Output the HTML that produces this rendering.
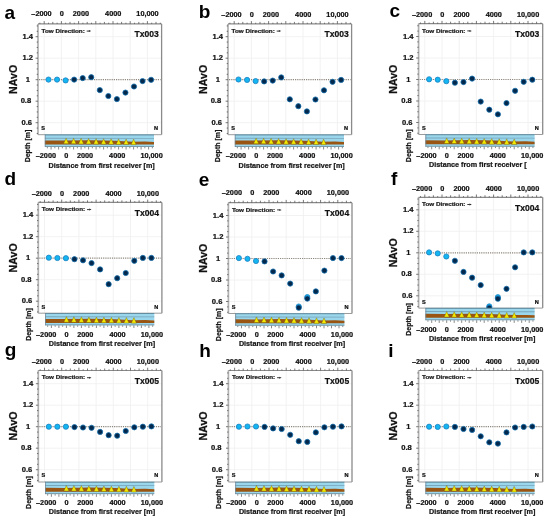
<!DOCTYPE html>
<html><head><meta charset="utf-8">
<style>
html,body{margin:0;padding:0;background:#fff;width:550px;height:521px;overflow:hidden}
svg{display:block;filter:blur(0.3px)}
text{font-family:"Liberation Sans", sans-serif;fill:#111;stroke:#111;stroke-width:0.24px}
.let{font-size:19px;font-weight:bold;fill:#000;stroke:none}
.ax{font-size:7.3px;font-weight:bold;fill:#111}
.yl{font-size:7.6px;font-weight:bold;fill:#111}
.nav{font-size:10.6px;font-weight:bold;fill:#111;stroke-width:0.25px}
.tow{font-size:5.5px;font-weight:bold;fill:#222;stroke:#222}
.tx{font-size:8.6px;font-weight:bold;fill:#111;stroke-width:0.2px}
.sn{font-size:5.6px;font-weight:bold;fill:#111}
.xt{font-size:7.2px;font-weight:bold;fill:#1a1a1a}
.dep{font-size:7.0px;font-weight:bold;fill:#1a1a1a}
.grid{stroke:#efefef;stroke-width:0.8}
.dot{stroke:#8d867c;stroke-width:1.2;stroke-dasharray:1.2 1.0}
.bl{stroke:#b0b0b0;stroke-width:1.7}
.br{stroke:#8a8a8a;stroke-width:1.3}
.bt{stroke:#8a8a8a;stroke-width:1.2}
.bb{stroke:#9c9c9c;stroke-width:1.0}
.tk{stroke:#555;stroke-width:0.8}
.tk2{stroke:#555;stroke-width:0.7}
.pl{fill:#14b6f2;stroke:#1f80c0;stroke-width:0.8}
.pd{fill:#03284c;stroke:#1470ae;stroke-width:0.8}
.tri{fill:#f4e800;stroke:#5a5010;stroke-width:0.35}
</style></head><body>
<svg width="550" height="521" viewBox="0 0 550 521">
<text x="4.5" y="19.3" class="let">a</text>
<line x1="44.2" y1="23.9" x2="44.2" y2="134.7" class="grid"/>
<line x1="61.4" y1="23.9" x2="61.4" y2="134.7" class="grid"/>
<line x1="78.6" y1="23.9" x2="78.6" y2="134.7" class="grid"/>
<line x1="95.8" y1="23.9" x2="95.8" y2="134.7" class="grid"/>
<line x1="113" y1="23.9" x2="113" y2="134.7" class="grid"/>
<line x1="130.2" y1="23.9" x2="130.2" y2="134.7" class="grid"/>
<line x1="147.4" y1="23.9" x2="147.4" y2="134.7" class="grid"/>
<line x1="38" y1="36.7" x2="161.6" y2="36.7" class="grid"/>
<line x1="38" y1="58.2" x2="161.6" y2="58.2" class="grid"/>
<line x1="38" y1="101.2" x2="161.6" y2="101.2" class="grid"/>
<line x1="38" y1="122.7" x2="161.6" y2="122.7" class="grid"/>
<line x1="39" y1="79.7" x2="160.6" y2="79.7" class="dot"/>
<line x1="38" y1="23.9" x2="38" y2="134.7" class="bl"/>
<line x1="161.6" y1="23.9" x2="161.6" y2="134.7" class="br"/>
<line x1="38" y1="23.9" x2="161.6" y2="23.9" class="bt"/>
<line x1="38" y1="134.7" x2="161.6" y2="134.7" class="bb"/>
<line x1="39.9" y1="22.7" x2="39.9" y2="23.9" class="tk"/>
<line x1="44.2" y1="21.1" x2="44.2" y2="23.9" class="tk"/>
<line x1="48.5" y1="22.7" x2="48.5" y2="23.9" class="tk"/>
<line x1="52.8" y1="21.9" x2="52.8" y2="23.9" class="tk"/>
<line x1="57.1" y1="22.7" x2="57.1" y2="23.9" class="tk"/>
<line x1="61.4" y1="21.1" x2="61.4" y2="23.9" class="tk"/>
<line x1="65.7" y1="22.7" x2="65.7" y2="23.9" class="tk"/>
<line x1="70" y1="21.9" x2="70" y2="23.9" class="tk"/>
<line x1="74.3" y1="22.7" x2="74.3" y2="23.9" class="tk"/>
<line x1="78.6" y1="21.1" x2="78.6" y2="23.9" class="tk"/>
<line x1="82.9" y1="22.7" x2="82.9" y2="23.9" class="tk"/>
<line x1="87.2" y1="21.9" x2="87.2" y2="23.9" class="tk"/>
<line x1="91.5" y1="22.7" x2="91.5" y2="23.9" class="tk"/>
<line x1="95.8" y1="21.1" x2="95.8" y2="23.9" class="tk"/>
<line x1="100.1" y1="22.7" x2="100.1" y2="23.9" class="tk"/>
<line x1="104.4" y1="21.9" x2="104.4" y2="23.9" class="tk"/>
<line x1="108.7" y1="22.7" x2="108.7" y2="23.9" class="tk"/>
<line x1="113" y1="21.1" x2="113" y2="23.9" class="tk"/>
<line x1="117.3" y1="22.7" x2="117.3" y2="23.9" class="tk"/>
<line x1="121.6" y1="21.9" x2="121.6" y2="23.9" class="tk"/>
<line x1="125.9" y1="22.7" x2="125.9" y2="23.9" class="tk"/>
<line x1="130.2" y1="21.1" x2="130.2" y2="23.9" class="tk"/>
<line x1="134.5" y1="22.7" x2="134.5" y2="23.9" class="tk"/>
<line x1="138.8" y1="21.9" x2="138.8" y2="23.9" class="tk"/>
<line x1="143.1" y1="22.7" x2="143.1" y2="23.9" class="tk"/>
<line x1="147.4" y1="21.1" x2="147.4" y2="23.9" class="tk"/>
<line x1="151.7" y1="22.7" x2="151.7" y2="23.9" class="tk"/>
<line x1="156" y1="21.9" x2="156" y2="23.9" class="tk"/>
<line x1="160.3" y1="22.7" x2="160.3" y2="23.9" class="tk"/>
<line x1="36.7" y1="25.95" x2="38" y2="25.95" class="tk"/>
<line x1="36.7" y1="31.32" x2="38" y2="31.32" class="tk"/>
<line x1="35.6" y1="36.7" x2="38" y2="36.7" class="tk"/>
<line x1="36.7" y1="42.07" x2="38" y2="42.07" class="tk"/>
<line x1="36.7" y1="47.45" x2="38" y2="47.45" class="tk"/>
<line x1="36.7" y1="52.82" x2="38" y2="52.82" class="tk"/>
<line x1="35.6" y1="58.2" x2="38" y2="58.2" class="tk"/>
<line x1="36.7" y1="63.58" x2="38" y2="63.58" class="tk"/>
<line x1="36.7" y1="68.95" x2="38" y2="68.95" class="tk"/>
<line x1="36.7" y1="74.32" x2="38" y2="74.32" class="tk"/>
<line x1="35.6" y1="79.7" x2="38" y2="79.7" class="tk"/>
<line x1="36.7" y1="85.07" x2="38" y2="85.07" class="tk"/>
<line x1="36.7" y1="90.45" x2="38" y2="90.45" class="tk"/>
<line x1="36.7" y1="95.82" x2="38" y2="95.82" class="tk"/>
<line x1="35.6" y1="101.2" x2="38" y2="101.2" class="tk"/>
<line x1="36.7" y1="106.57" x2="38" y2="106.57" class="tk"/>
<line x1="36.7" y1="111.95" x2="38" y2="111.95" class="tk"/>
<line x1="36.7" y1="117.32" x2="38" y2="117.32" class="tk"/>
<line x1="35.6" y1="122.7" x2="38" y2="122.7" class="tk"/>
<line x1="36.7" y1="128.07" x2="38" y2="128.07" class="tk"/>
<line x1="36.7" y1="133.45" x2="38" y2="133.45" class="tk"/>
<text x="41.5" y="15.5" class="ax" text-anchor="middle">–2000</text>
<text x="61.8" y="15.5" class="ax" text-anchor="middle">0</text>
<text x="80.9" y="15.5" class="ax" text-anchor="middle">2000</text>
<text x="113.2" y="15.5" class="ax" text-anchor="middle">4000</text>
<text x="147.5" y="15.5" class="ax" text-anchor="middle">10,000</text>
<text x="33" y="38.8" class="yl" text-anchor="end">1.4</text>
<text x="33" y="60.3" class="yl" text-anchor="end">1.2</text>
<text x="29.9" y="81.8" class="yl" text-anchor="end">1</text>
<text x="31.2" y="103.3" class="yl" text-anchor="end">0.8</text>
<text x="32" y="124.8" class="yl" text-anchor="end">0.6</text>
<text transform="translate(16.8,79.4) rotate(-90)" class="nav" text-anchor="middle">NAvO</text>
<text x="41.5" y="32.7" class="tow" textLength="43.3" lengthAdjust="spacingAndGlyphs">Tow Direction:</text>
<path d="M86.7,31.1 h2.6" stroke="#222" stroke-width="0.9"/>
<path d="M88.9,30.1 l2.3,1.0 l-2.3,1.0 z" fill="#222"/>
<text x="158.8" y="37.1" class="tx" text-anchor="end">Tx003</text>
<text x="41.3" y="130.3" class="sn">S</text>
<text x="158.1" y="130.1" class="sn" text-anchor="end">N</text>
<circle cx="48.5" cy="79.6" r="2.6" class="pl"/>
<circle cx="57.05" cy="79.6" r="2.6" class="pl"/>
<circle cx="65.6" cy="80.4" r="2.6" class="pl"/>
<circle cx="74.15" cy="79.6" r="2.6" class="pd"/>
<circle cx="82.7" cy="78.1" r="2.6" class="pd"/>
<circle cx="91.25" cy="77.2" r="2.6" class="pd"/>
<circle cx="99.8" cy="90.1" r="2.6" class="pd"/>
<circle cx="108.35" cy="96" r="2.6" class="pd"/>
<circle cx="116.9" cy="99.1" r="2.6" class="pd"/>
<circle cx="125.45" cy="92.6" r="2.6" class="pd"/>
<circle cx="134" cy="86.5" r="2.6" class="pd"/>
<circle cx="142.55" cy="81.1" r="2.6" class="pd"/>
<circle cx="151.1" cy="79.8" r="2.6" class="pd"/>
<rect x="44.9" y="134.5" width="109.1" height="12.3" fill="#9ad6ec"/>
<rect x="44.9" y="134.5" width="109.1" height="0.9" fill="#5f8598"/>
<path d="M44.9,137.7 L154,137.9 L154,138.8 L44.9,138.7 Z" fill="#78a6bb"/>
<path d="M44.9,140.4 L64.9,140.6 L89.9,140.3 L114.9,140.8 L132.9,141.7 L144.9,141.5 L154,141.9 L154,144.4 L44.9,144.4 Z" fill="#9a5512"/>
<rect x="44.9" y="146" width="109.1" height="0.8" fill="#6f8c9a"/>
<line x1="45.2" y1="134.5" x2="45.2" y2="146.8" stroke="#6a8090" stroke-width="0.7"/>
<path d="M66.1,138.1 L68.7,143.7 L63.5,143.7 Z" class="tri"/>
<path d="M73.6,138.21 L76.2,143.81 L71,143.81 Z" class="tri"/>
<path d="M81.1,138.32 L83.7,143.92 L78.5,143.92 Z" class="tri"/>
<path d="M88.6,138.43 L91.2,144.03 L86,144.03 Z" class="tri"/>
<path d="M96.1,138.54 L98.7,144.14 L93.5,144.14 Z" class="tri"/>
<path d="M103.6,138.66 L106.2,144.26 L101,144.26 Z" class="tri"/>
<path d="M111.1,138.77 L113.7,144.37 L108.5,144.37 Z" class="tri"/>
<path d="M118.6,138.88 L121.2,144.48 L116,144.48 Z" class="tri"/>
<path d="M126.1,138.99 L128.7,144.59 L123.5,144.59 Z" class="tri"/>
<path d="M133.6,139.1 L136.2,144.7 L131,144.7 Z" class="tri"/>
<line x1="47.35" y1="146.9" x2="47.35" y2="148.3" class="tk2"/>
<line x1="51.1" y1="146.9" x2="51.1" y2="149.5" class="tk2"/>
<line x1="54.85" y1="146.9" x2="54.85" y2="148.3" class="tk2"/>
<line x1="58.6" y1="146.9" x2="58.6" y2="149.5" class="tk2"/>
<line x1="62.35" y1="146.9" x2="62.35" y2="148.3" class="tk2"/>
<line x1="66.1" y1="146.9" x2="66.1" y2="149.5" class="tk2"/>
<line x1="69.85" y1="146.9" x2="69.85" y2="148.3" class="tk2"/>
<line x1="73.6" y1="146.9" x2="73.6" y2="149.5" class="tk2"/>
<line x1="77.35" y1="146.9" x2="77.35" y2="148.3" class="tk2"/>
<line x1="81.1" y1="146.9" x2="81.1" y2="149.5" class="tk2"/>
<line x1="84.85" y1="146.9" x2="84.85" y2="148.3" class="tk2"/>
<line x1="88.6" y1="146.9" x2="88.6" y2="149.5" class="tk2"/>
<line x1="92.35" y1="146.9" x2="92.35" y2="148.3" class="tk2"/>
<line x1="96.1" y1="146.9" x2="96.1" y2="149.5" class="tk2"/>
<line x1="99.85" y1="146.9" x2="99.85" y2="148.3" class="tk2"/>
<line x1="103.6" y1="146.9" x2="103.6" y2="149.5" class="tk2"/>
<line x1="107.35" y1="146.9" x2="107.35" y2="148.3" class="tk2"/>
<line x1="111.1" y1="146.9" x2="111.1" y2="149.5" class="tk2"/>
<line x1="114.85" y1="146.9" x2="114.85" y2="148.3" class="tk2"/>
<line x1="118.6" y1="146.9" x2="118.6" y2="149.5" class="tk2"/>
<line x1="122.35" y1="146.9" x2="122.35" y2="148.3" class="tk2"/>
<line x1="126.1" y1="146.9" x2="126.1" y2="149.5" class="tk2"/>
<line x1="129.85" y1="146.9" x2="129.85" y2="148.3" class="tk2"/>
<line x1="133.6" y1="146.9" x2="133.6" y2="149.5" class="tk2"/>
<line x1="137.35" y1="146.9" x2="137.35" y2="148.3" class="tk2"/>
<line x1="141.1" y1="146.9" x2="141.1" y2="149.5" class="tk2"/>
<line x1="144.85" y1="146.9" x2="144.85" y2="148.3" class="tk2"/>
<line x1="148.6" y1="146.9" x2="148.6" y2="149.5" class="tk2"/>
<line x1="152.35" y1="146.9" x2="152.35" y2="148.3" class="tk2"/>
<text x="45.9" y="158.3" class="ax" text-anchor="middle">–2000</text>
<text x="66.3" y="158.3" class="ax" text-anchor="middle">0</text>
<text x="85" y="158.3" class="ax" text-anchor="middle">2000</text>
<text x="117.2" y="158.3" class="ax" text-anchor="middle">4000</text>
<text x="151.6" y="158.3" class="ax" text-anchor="middle">10,000</text>
<text x="48.5" y="167.6" class="xt">Distance from first receiver [m]</text>
<text transform="translate(30.4,146) rotate(-90)" class="dep" text-anchor="middle">Depth [m]</text>
<text x="198.8" y="18.2" class="let">b</text>
<line x1="234.2" y1="23.9" x2="234.2" y2="134.7" class="grid"/>
<line x1="251.4" y1="23.9" x2="251.4" y2="134.7" class="grid"/>
<line x1="268.6" y1="23.9" x2="268.6" y2="134.7" class="grid"/>
<line x1="285.8" y1="23.9" x2="285.8" y2="134.7" class="grid"/>
<line x1="303" y1="23.9" x2="303" y2="134.7" class="grid"/>
<line x1="320.2" y1="23.9" x2="320.2" y2="134.7" class="grid"/>
<line x1="337.4" y1="23.9" x2="337.4" y2="134.7" class="grid"/>
<line x1="228" y1="36.7" x2="351.6" y2="36.7" class="grid"/>
<line x1="228" y1="58.2" x2="351.6" y2="58.2" class="grid"/>
<line x1="228" y1="101.2" x2="351.6" y2="101.2" class="grid"/>
<line x1="228" y1="122.7" x2="351.6" y2="122.7" class="grid"/>
<line x1="229" y1="79.7" x2="350.6" y2="79.7" class="dot"/>
<line x1="228" y1="23.9" x2="228" y2="134.7" class="bl"/>
<line x1="351.6" y1="23.9" x2="351.6" y2="134.7" class="br"/>
<line x1="228" y1="23.9" x2="351.6" y2="23.9" class="bt"/>
<line x1="228" y1="134.7" x2="351.6" y2="134.7" class="bb"/>
<line x1="229.9" y1="22.7" x2="229.9" y2="23.9" class="tk"/>
<line x1="234.2" y1="21.1" x2="234.2" y2="23.9" class="tk"/>
<line x1="238.5" y1="22.7" x2="238.5" y2="23.9" class="tk"/>
<line x1="242.8" y1="21.9" x2="242.8" y2="23.9" class="tk"/>
<line x1="247.1" y1="22.7" x2="247.1" y2="23.9" class="tk"/>
<line x1="251.4" y1="21.1" x2="251.4" y2="23.9" class="tk"/>
<line x1="255.7" y1="22.7" x2="255.7" y2="23.9" class="tk"/>
<line x1="260" y1="21.9" x2="260" y2="23.9" class="tk"/>
<line x1="264.3" y1="22.7" x2="264.3" y2="23.9" class="tk"/>
<line x1="268.6" y1="21.1" x2="268.6" y2="23.9" class="tk"/>
<line x1="272.9" y1="22.7" x2="272.9" y2="23.9" class="tk"/>
<line x1="277.2" y1="21.9" x2="277.2" y2="23.9" class="tk"/>
<line x1="281.5" y1="22.7" x2="281.5" y2="23.9" class="tk"/>
<line x1="285.8" y1="21.1" x2="285.8" y2="23.9" class="tk"/>
<line x1="290.1" y1="22.7" x2="290.1" y2="23.9" class="tk"/>
<line x1="294.4" y1="21.9" x2="294.4" y2="23.9" class="tk"/>
<line x1="298.7" y1="22.7" x2="298.7" y2="23.9" class="tk"/>
<line x1="303" y1="21.1" x2="303" y2="23.9" class="tk"/>
<line x1="307.3" y1="22.7" x2="307.3" y2="23.9" class="tk"/>
<line x1="311.6" y1="21.9" x2="311.6" y2="23.9" class="tk"/>
<line x1="315.9" y1="22.7" x2="315.9" y2="23.9" class="tk"/>
<line x1="320.2" y1="21.1" x2="320.2" y2="23.9" class="tk"/>
<line x1="324.5" y1="22.7" x2="324.5" y2="23.9" class="tk"/>
<line x1="328.8" y1="21.9" x2="328.8" y2="23.9" class="tk"/>
<line x1="333.1" y1="22.7" x2="333.1" y2="23.9" class="tk"/>
<line x1="337.4" y1="21.1" x2="337.4" y2="23.9" class="tk"/>
<line x1="341.7" y1="22.7" x2="341.7" y2="23.9" class="tk"/>
<line x1="346" y1="21.9" x2="346" y2="23.9" class="tk"/>
<line x1="350.3" y1="22.7" x2="350.3" y2="23.9" class="tk"/>
<line x1="226.7" y1="25.95" x2="228" y2="25.95" class="tk"/>
<line x1="226.7" y1="31.32" x2="228" y2="31.32" class="tk"/>
<line x1="225.6" y1="36.7" x2="228" y2="36.7" class="tk"/>
<line x1="226.7" y1="42.07" x2="228" y2="42.07" class="tk"/>
<line x1="226.7" y1="47.45" x2="228" y2="47.45" class="tk"/>
<line x1="226.7" y1="52.82" x2="228" y2="52.82" class="tk"/>
<line x1="225.6" y1="58.2" x2="228" y2="58.2" class="tk"/>
<line x1="226.7" y1="63.58" x2="228" y2="63.58" class="tk"/>
<line x1="226.7" y1="68.95" x2="228" y2="68.95" class="tk"/>
<line x1="226.7" y1="74.32" x2="228" y2="74.32" class="tk"/>
<line x1="225.6" y1="79.7" x2="228" y2="79.7" class="tk"/>
<line x1="226.7" y1="85.07" x2="228" y2="85.07" class="tk"/>
<line x1="226.7" y1="90.45" x2="228" y2="90.45" class="tk"/>
<line x1="226.7" y1="95.82" x2="228" y2="95.82" class="tk"/>
<line x1="225.6" y1="101.2" x2="228" y2="101.2" class="tk"/>
<line x1="226.7" y1="106.57" x2="228" y2="106.57" class="tk"/>
<line x1="226.7" y1="111.95" x2="228" y2="111.95" class="tk"/>
<line x1="226.7" y1="117.32" x2="228" y2="117.32" class="tk"/>
<line x1="225.6" y1="122.7" x2="228" y2="122.7" class="tk"/>
<line x1="226.7" y1="128.07" x2="228" y2="128.07" class="tk"/>
<line x1="226.7" y1="133.45" x2="228" y2="133.45" class="tk"/>
<text x="231.5" y="16.7" class="ax" text-anchor="middle">–2000</text>
<text x="251.8" y="16.7" class="ax" text-anchor="middle">0</text>
<text x="270.9" y="16.7" class="ax" text-anchor="middle">2000</text>
<text x="303.2" y="16.7" class="ax" text-anchor="middle">4000</text>
<text x="337.5" y="16.7" class="ax" text-anchor="middle">10,000</text>
<text x="223" y="38.8" class="yl" text-anchor="end">1.4</text>
<text x="223" y="60.3" class="yl" text-anchor="end">1.2</text>
<text x="219.9" y="81.8" class="yl" text-anchor="end">1</text>
<text x="221.2" y="103.3" class="yl" text-anchor="end">0.8</text>
<text x="222" y="124.8" class="yl" text-anchor="end">0.6</text>
<text transform="translate(206.8,79.4) rotate(-90)" class="nav" text-anchor="middle">NAvO</text>
<text x="231.5" y="32.7" class="tow" textLength="43.3" lengthAdjust="spacingAndGlyphs">Tow Direction:</text>
<path d="M276.7,31.1 h2.6" stroke="#222" stroke-width="0.9"/>
<path d="M278.9,30.1 l2.3,1.0 l-2.3,1.0 z" fill="#222"/>
<text x="348.8" y="37.1" class="tx" text-anchor="end">Tx003</text>
<text x="231.3" y="130.3" class="sn">S</text>
<text x="348.1" y="130.1" class="sn" text-anchor="end">N</text>
<circle cx="238.5" cy="79.5" r="2.6" class="pl"/>
<circle cx="247.05" cy="79.9" r="2.6" class="pl"/>
<circle cx="255.6" cy="81.1" r="2.6" class="pl"/>
<circle cx="264.15" cy="81.4" r="2.6" class="pd"/>
<circle cx="272.7" cy="80.6" r="2.6" class="pd"/>
<circle cx="281.25" cy="77.4" r="2.6" class="pd"/>
<circle cx="289.8" cy="99.3" r="2.6" class="pd"/>
<circle cx="298.35" cy="106.2" r="2.6" class="pd"/>
<circle cx="306.9" cy="111.4" r="2.6" class="pd"/>
<circle cx="315.45" cy="99.5" r="2.6" class="pd"/>
<circle cx="324" cy="90.3" r="2.6" class="pd"/>
<circle cx="332.55" cy="81.8" r="2.6" class="pd"/>
<circle cx="341.1" cy="79.9" r="2.6" class="pd"/>
<rect x="234.9" y="134.5" width="109.1" height="12.3" fill="#9ad6ec"/>
<rect x="234.9" y="134.5" width="109.1" height="0.9" fill="#5f8598"/>
<path d="M234.9,137.7 L344,137.9 L344,138.8 L234.9,138.7 Z" fill="#78a6bb"/>
<path d="M234.9,140.4 L254.9,140.6 L279.9,140.3 L304.9,140.8 L322.9,141.7 L334.9,141.5 L344,141.9 L344,144.4 L234.9,144.4 Z" fill="#9a5512"/>
<rect x="234.9" y="146" width="109.1" height="0.8" fill="#6f8c9a"/>
<line x1="235.2" y1="134.5" x2="235.2" y2="146.8" stroke="#6a8090" stroke-width="0.7"/>
<path d="M256.1,138.1 L258.7,143.7 L253.5,143.7 Z" class="tri"/>
<path d="M263.6,138.21 L266.2,143.81 L261,143.81 Z" class="tri"/>
<path d="M271.1,138.32 L273.7,143.92 L268.5,143.92 Z" class="tri"/>
<path d="M278.6,138.43 L281.2,144.03 L276,144.03 Z" class="tri"/>
<path d="M286.1,138.54 L288.7,144.14 L283.5,144.14 Z" class="tri"/>
<path d="M293.6,138.66 L296.2,144.26 L291,144.26 Z" class="tri"/>
<path d="M301.1,138.77 L303.7,144.37 L298.5,144.37 Z" class="tri"/>
<path d="M308.6,138.88 L311.2,144.48 L306,144.48 Z" class="tri"/>
<path d="M316.1,138.99 L318.7,144.59 L313.5,144.59 Z" class="tri"/>
<path d="M323.6,139.1 L326.2,144.7 L321,144.7 Z" class="tri"/>
<line x1="237.35" y1="146.9" x2="237.35" y2="148.3" class="tk2"/>
<line x1="241.1" y1="146.9" x2="241.1" y2="149.5" class="tk2"/>
<line x1="244.85" y1="146.9" x2="244.85" y2="148.3" class="tk2"/>
<line x1="248.6" y1="146.9" x2="248.6" y2="149.5" class="tk2"/>
<line x1="252.35" y1="146.9" x2="252.35" y2="148.3" class="tk2"/>
<line x1="256.1" y1="146.9" x2="256.1" y2="149.5" class="tk2"/>
<line x1="259.85" y1="146.9" x2="259.85" y2="148.3" class="tk2"/>
<line x1="263.6" y1="146.9" x2="263.6" y2="149.5" class="tk2"/>
<line x1="267.35" y1="146.9" x2="267.35" y2="148.3" class="tk2"/>
<line x1="271.1" y1="146.9" x2="271.1" y2="149.5" class="tk2"/>
<line x1="274.85" y1="146.9" x2="274.85" y2="148.3" class="tk2"/>
<line x1="278.6" y1="146.9" x2="278.6" y2="149.5" class="tk2"/>
<line x1="282.35" y1="146.9" x2="282.35" y2="148.3" class="tk2"/>
<line x1="286.1" y1="146.9" x2="286.1" y2="149.5" class="tk2"/>
<line x1="289.85" y1="146.9" x2="289.85" y2="148.3" class="tk2"/>
<line x1="293.6" y1="146.9" x2="293.6" y2="149.5" class="tk2"/>
<line x1="297.35" y1="146.9" x2="297.35" y2="148.3" class="tk2"/>
<line x1="301.1" y1="146.9" x2="301.1" y2="149.5" class="tk2"/>
<line x1="304.85" y1="146.9" x2="304.85" y2="148.3" class="tk2"/>
<line x1="308.6" y1="146.9" x2="308.6" y2="149.5" class="tk2"/>
<line x1="312.35" y1="146.9" x2="312.35" y2="148.3" class="tk2"/>
<line x1="316.1" y1="146.9" x2="316.1" y2="149.5" class="tk2"/>
<line x1="319.85" y1="146.9" x2="319.85" y2="148.3" class="tk2"/>
<line x1="323.6" y1="146.9" x2="323.6" y2="149.5" class="tk2"/>
<line x1="327.35" y1="146.9" x2="327.35" y2="148.3" class="tk2"/>
<line x1="331.1" y1="146.9" x2="331.1" y2="149.5" class="tk2"/>
<line x1="334.85" y1="146.9" x2="334.85" y2="148.3" class="tk2"/>
<line x1="338.6" y1="146.9" x2="338.6" y2="149.5" class="tk2"/>
<line x1="342.35" y1="146.9" x2="342.35" y2="148.3" class="tk2"/>
<text x="235.9" y="158.3" class="ax" text-anchor="middle">–2000</text>
<text x="256.3" y="158.3" class="ax" text-anchor="middle">0</text>
<text x="275" y="158.3" class="ax" text-anchor="middle">2000</text>
<text x="307.2" y="158.3" class="ax" text-anchor="middle">4000</text>
<text x="341.6" y="158.3" class="ax" text-anchor="middle">10,000</text>
<text x="238.5" y="167.6" class="xt">Distance from first receiver [m]</text>
<text transform="translate(220.4,146) rotate(-90)" class="dep" text-anchor="middle">Depth [m]</text>
<text x="389.4" y="16.9" class="let">c</text>
<line x1="424.8" y1="23.7" x2="424.8" y2="134.5" class="grid"/>
<line x1="442" y1="23.7" x2="442" y2="134.5" class="grid"/>
<line x1="459.2" y1="23.7" x2="459.2" y2="134.5" class="grid"/>
<line x1="476.4" y1="23.7" x2="476.4" y2="134.5" class="grid"/>
<line x1="493.6" y1="23.7" x2="493.6" y2="134.5" class="grid"/>
<line x1="510.8" y1="23.7" x2="510.8" y2="134.5" class="grid"/>
<line x1="528" y1="23.7" x2="528" y2="134.5" class="grid"/>
<line x1="418.6" y1="36.5" x2="542.7" y2="36.5" class="grid"/>
<line x1="418.6" y1="58" x2="542.7" y2="58" class="grid"/>
<line x1="418.6" y1="101" x2="542.7" y2="101" class="grid"/>
<line x1="418.6" y1="122.5" x2="542.7" y2="122.5" class="grid"/>
<line x1="419.6" y1="79.5" x2="541.7" y2="79.5" class="dot"/>
<line x1="418.6" y1="23.7" x2="418.6" y2="134.5" class="bl"/>
<line x1="542.7" y1="23.7" x2="542.7" y2="134.5" class="br"/>
<line x1="418.6" y1="23.7" x2="542.7" y2="23.7" class="bt"/>
<line x1="418.6" y1="134.5" x2="542.7" y2="134.5" class="bb"/>
<line x1="420.5" y1="22.5" x2="420.5" y2="23.7" class="tk"/>
<line x1="424.8" y1="20.9" x2="424.8" y2="23.7" class="tk"/>
<line x1="429.1" y1="22.5" x2="429.1" y2="23.7" class="tk"/>
<line x1="433.4" y1="21.7" x2="433.4" y2="23.7" class="tk"/>
<line x1="437.7" y1="22.5" x2="437.7" y2="23.7" class="tk"/>
<line x1="442" y1="20.9" x2="442" y2="23.7" class="tk"/>
<line x1="446.3" y1="22.5" x2="446.3" y2="23.7" class="tk"/>
<line x1="450.6" y1="21.7" x2="450.6" y2="23.7" class="tk"/>
<line x1="454.9" y1="22.5" x2="454.9" y2="23.7" class="tk"/>
<line x1="459.2" y1="20.9" x2="459.2" y2="23.7" class="tk"/>
<line x1="463.5" y1="22.5" x2="463.5" y2="23.7" class="tk"/>
<line x1="467.8" y1="21.7" x2="467.8" y2="23.7" class="tk"/>
<line x1="472.1" y1="22.5" x2="472.1" y2="23.7" class="tk"/>
<line x1="476.4" y1="20.9" x2="476.4" y2="23.7" class="tk"/>
<line x1="480.7" y1="22.5" x2="480.7" y2="23.7" class="tk"/>
<line x1="485" y1="21.7" x2="485" y2="23.7" class="tk"/>
<line x1="489.3" y1="22.5" x2="489.3" y2="23.7" class="tk"/>
<line x1="493.6" y1="20.9" x2="493.6" y2="23.7" class="tk"/>
<line x1="497.9" y1="22.5" x2="497.9" y2="23.7" class="tk"/>
<line x1="502.2" y1="21.7" x2="502.2" y2="23.7" class="tk"/>
<line x1="506.5" y1="22.5" x2="506.5" y2="23.7" class="tk"/>
<line x1="510.8" y1="20.9" x2="510.8" y2="23.7" class="tk"/>
<line x1="515.1" y1="22.5" x2="515.1" y2="23.7" class="tk"/>
<line x1="519.4" y1="21.7" x2="519.4" y2="23.7" class="tk"/>
<line x1="523.7" y1="22.5" x2="523.7" y2="23.7" class="tk"/>
<line x1="528" y1="20.9" x2="528" y2="23.7" class="tk"/>
<line x1="532.3" y1="22.5" x2="532.3" y2="23.7" class="tk"/>
<line x1="536.6" y1="21.7" x2="536.6" y2="23.7" class="tk"/>
<line x1="540.9" y1="22.5" x2="540.9" y2="23.7" class="tk"/>
<line x1="417.3" y1="25.75" x2="418.6" y2="25.75" class="tk"/>
<line x1="417.3" y1="31.13" x2="418.6" y2="31.13" class="tk"/>
<line x1="416.2" y1="36.5" x2="418.6" y2="36.5" class="tk"/>
<line x1="417.3" y1="41.87" x2="418.6" y2="41.87" class="tk"/>
<line x1="417.3" y1="47.25" x2="418.6" y2="47.25" class="tk"/>
<line x1="417.3" y1="52.62" x2="418.6" y2="52.62" class="tk"/>
<line x1="416.2" y1="58" x2="418.6" y2="58" class="tk"/>
<line x1="417.3" y1="63.38" x2="418.6" y2="63.38" class="tk"/>
<line x1="417.3" y1="68.75" x2="418.6" y2="68.75" class="tk"/>
<line x1="417.3" y1="74.12" x2="418.6" y2="74.12" class="tk"/>
<line x1="416.2" y1="79.5" x2="418.6" y2="79.5" class="tk"/>
<line x1="417.3" y1="84.88" x2="418.6" y2="84.88" class="tk"/>
<line x1="417.3" y1="90.25" x2="418.6" y2="90.25" class="tk"/>
<line x1="417.3" y1="95.62" x2="418.6" y2="95.62" class="tk"/>
<line x1="416.2" y1="101" x2="418.6" y2="101" class="tk"/>
<line x1="417.3" y1="106.38" x2="418.6" y2="106.38" class="tk"/>
<line x1="417.3" y1="111.75" x2="418.6" y2="111.75" class="tk"/>
<line x1="417.3" y1="117.12" x2="418.6" y2="117.12" class="tk"/>
<line x1="416.2" y1="122.5" x2="418.6" y2="122.5" class="tk"/>
<line x1="417.3" y1="127.88" x2="418.6" y2="127.88" class="tk"/>
<line x1="417.3" y1="133.25" x2="418.6" y2="133.25" class="tk"/>
<text x="422.1" y="16.9" class="ax" text-anchor="middle">–2000</text>
<text x="442.4" y="16.9" class="ax" text-anchor="middle">0</text>
<text x="461.5" y="16.9" class="ax" text-anchor="middle">2000</text>
<text x="493.8" y="16.9" class="ax" text-anchor="middle">4000</text>
<text x="528.1" y="16.9" class="ax" text-anchor="middle">10,000</text>
<text x="413.6" y="38.6" class="yl" text-anchor="end">1.4</text>
<text x="413.6" y="60.1" class="yl" text-anchor="end">1.2</text>
<text x="410.5" y="81.6" class="yl" text-anchor="end">1</text>
<text x="411.8" y="103.1" class="yl" text-anchor="end">0.8</text>
<text x="412.6" y="124.6" class="yl" text-anchor="end">0.6</text>
<text transform="translate(397.4,79.2) rotate(-90)" class="nav" text-anchor="middle">NAvO</text>
<text x="422.1" y="32.5" class="tow" textLength="43.3" lengthAdjust="spacingAndGlyphs">Tow Direction:</text>
<path d="M467.3,30.9 h2.6" stroke="#222" stroke-width="0.9"/>
<path d="M469.5,29.9 l2.3,1.0 l-2.3,1.0 z" fill="#222"/>
<text x="539.4" y="36.9" class="tx" text-anchor="end">Tx003</text>
<text x="421.9" y="130.1" class="sn">S</text>
<text x="538.7" y="129.9" class="sn" text-anchor="end">N</text>
<circle cx="429.1" cy="79.3" r="2.6" class="pl"/>
<circle cx="437.7" cy="79.7" r="2.6" class="pl"/>
<circle cx="446.3" cy="81.2" r="2.6" class="pl"/>
<circle cx="454.9" cy="82.7" r="2.6" class="pd"/>
<circle cx="463.5" cy="82.1" r="2.6" class="pd"/>
<circle cx="472.1" cy="78.6" r="2.6" class="pd"/>
<circle cx="480.7" cy="101.6" r="2.6" class="pd"/>
<circle cx="489.3" cy="109.7" r="2.6" class="pd"/>
<circle cx="497.9" cy="114.3" r="2.6" class="pd"/>
<circle cx="506.5" cy="103.1" r="2.6" class="pd"/>
<circle cx="515.1" cy="90.8" r="2.6" class="pd"/>
<circle cx="523.7" cy="81.8" r="2.6" class="pd"/>
<circle cx="532.3" cy="79.7" r="2.6" class="pd"/>
<rect x="425.5" y="134.3" width="109.1" height="12.3" fill="#9ad6ec"/>
<rect x="425.5" y="134.3" width="109.1" height="0.9" fill="#5f8598"/>
<path d="M425.5,137.5 L534.6,137.7 L534.6,138.6 L425.5,138.5 Z" fill="#78a6bb"/>
<path d="M425.5,140.2 L445.5,140.4 L470.5,140.1 L495.5,140.6 L513.5,141.5 L525.5,141.3 L534.6,141.7 L534.6,144.2 L425.5,144.2 Z" fill="#9a5512"/>
<rect x="425.5" y="145.8" width="109.1" height="0.8" fill="#6f8c9a"/>
<line x1="425.8" y1="134.3" x2="425.8" y2="146.6" stroke="#6a8090" stroke-width="0.7"/>
<path d="M446.7,137.9 L449.3,143.5 L444.1,143.5 Z" class="tri"/>
<path d="M454.2,138.01 L456.8,143.61 L451.6,143.61 Z" class="tri"/>
<path d="M461.7,138.12 L464.3,143.72 L459.1,143.72 Z" class="tri"/>
<path d="M469.2,138.23 L471.8,143.83 L466.6,143.83 Z" class="tri"/>
<path d="M476.7,138.34 L479.3,143.94 L474.1,143.94 Z" class="tri"/>
<path d="M484.2,138.46 L486.8,144.06 L481.6,144.06 Z" class="tri"/>
<path d="M491.7,138.57 L494.3,144.17 L489.1,144.17 Z" class="tri"/>
<path d="M499.2,138.68 L501.8,144.28 L496.6,144.28 Z" class="tri"/>
<path d="M506.7,138.79 L509.3,144.39 L504.1,144.39 Z" class="tri"/>
<path d="M514.2,138.9 L516.8,144.5 L511.6,144.5 Z" class="tri"/>
<line x1="427.95" y1="146.7" x2="427.95" y2="148.1" class="tk2"/>
<line x1="431.7" y1="146.7" x2="431.7" y2="149.3" class="tk2"/>
<line x1="435.45" y1="146.7" x2="435.45" y2="148.1" class="tk2"/>
<line x1="439.2" y1="146.7" x2="439.2" y2="149.3" class="tk2"/>
<line x1="442.95" y1="146.7" x2="442.95" y2="148.1" class="tk2"/>
<line x1="446.7" y1="146.7" x2="446.7" y2="149.3" class="tk2"/>
<line x1="450.45" y1="146.7" x2="450.45" y2="148.1" class="tk2"/>
<line x1="454.2" y1="146.7" x2="454.2" y2="149.3" class="tk2"/>
<line x1="457.95" y1="146.7" x2="457.95" y2="148.1" class="tk2"/>
<line x1="461.7" y1="146.7" x2="461.7" y2="149.3" class="tk2"/>
<line x1="465.45" y1="146.7" x2="465.45" y2="148.1" class="tk2"/>
<line x1="469.2" y1="146.7" x2="469.2" y2="149.3" class="tk2"/>
<line x1="472.95" y1="146.7" x2="472.95" y2="148.1" class="tk2"/>
<line x1="476.7" y1="146.7" x2="476.7" y2="149.3" class="tk2"/>
<line x1="480.45" y1="146.7" x2="480.45" y2="148.1" class="tk2"/>
<line x1="484.2" y1="146.7" x2="484.2" y2="149.3" class="tk2"/>
<line x1="487.95" y1="146.7" x2="487.95" y2="148.1" class="tk2"/>
<line x1="491.7" y1="146.7" x2="491.7" y2="149.3" class="tk2"/>
<line x1="495.45" y1="146.7" x2="495.45" y2="148.1" class="tk2"/>
<line x1="499.2" y1="146.7" x2="499.2" y2="149.3" class="tk2"/>
<line x1="502.95" y1="146.7" x2="502.95" y2="148.1" class="tk2"/>
<line x1="506.7" y1="146.7" x2="506.7" y2="149.3" class="tk2"/>
<line x1="510.45" y1="146.7" x2="510.45" y2="148.1" class="tk2"/>
<line x1="514.2" y1="146.7" x2="514.2" y2="149.3" class="tk2"/>
<line x1="517.95" y1="146.7" x2="517.95" y2="148.1" class="tk2"/>
<line x1="521.7" y1="146.7" x2="521.7" y2="149.3" class="tk2"/>
<line x1="525.45" y1="146.7" x2="525.45" y2="148.1" class="tk2"/>
<line x1="529.2" y1="146.7" x2="529.2" y2="149.3" class="tk2"/>
<line x1="532.95" y1="146.7" x2="532.95" y2="148.1" class="tk2"/>
<text x="426.5" y="158.1" class="ax" text-anchor="middle">–2000</text>
<text x="446.9" y="158.1" class="ax" text-anchor="middle">0</text>
<text x="465.6" y="158.1" class="ax" text-anchor="middle">2000</text>
<text x="497.8" y="158.1" class="ax" text-anchor="middle">4000</text>
<text x="532.2" y="158.1" class="ax" text-anchor="middle">10,000</text>
<text x="429.1" y="167.4" class="xt">Distance from first receiver [</text>
<text transform="translate(411,145.8) rotate(-90)" class="dep" text-anchor="middle">Depth [m]</text>
<text x="4.5" y="185.2" class="let">d</text>
<line x1="44.5" y1="202.4" x2="44.5" y2="313.2" class="grid"/>
<line x1="61.7" y1="202.4" x2="61.7" y2="313.2" class="grid"/>
<line x1="78.9" y1="202.4" x2="78.9" y2="313.2" class="grid"/>
<line x1="96.1" y1="202.4" x2="96.1" y2="313.2" class="grid"/>
<line x1="113.3" y1="202.4" x2="113.3" y2="313.2" class="grid"/>
<line x1="130.5" y1="202.4" x2="130.5" y2="313.2" class="grid"/>
<line x1="147.7" y1="202.4" x2="147.7" y2="313.2" class="grid"/>
<line x1="38.3" y1="215.2" x2="161.9" y2="215.2" class="grid"/>
<line x1="38.3" y1="236.7" x2="161.9" y2="236.7" class="grid"/>
<line x1="38.3" y1="279.7" x2="161.9" y2="279.7" class="grid"/>
<line x1="38.3" y1="301.2" x2="161.9" y2="301.2" class="grid"/>
<line x1="39.3" y1="258.2" x2="160.9" y2="258.2" class="dot"/>
<line x1="38.3" y1="202.4" x2="38.3" y2="313.2" class="bl"/>
<line x1="161.9" y1="202.4" x2="161.9" y2="313.2" class="br"/>
<line x1="38.3" y1="202.4" x2="161.9" y2="202.4" class="bt"/>
<line x1="38.3" y1="313.2" x2="161.9" y2="313.2" class="bb"/>
<line x1="40.2" y1="201.2" x2="40.2" y2="202.4" class="tk"/>
<line x1="44.5" y1="199.6" x2="44.5" y2="202.4" class="tk"/>
<line x1="48.8" y1="201.2" x2="48.8" y2="202.4" class="tk"/>
<line x1="53.1" y1="200.4" x2="53.1" y2="202.4" class="tk"/>
<line x1="57.4" y1="201.2" x2="57.4" y2="202.4" class="tk"/>
<line x1="61.7" y1="199.6" x2="61.7" y2="202.4" class="tk"/>
<line x1="66" y1="201.2" x2="66" y2="202.4" class="tk"/>
<line x1="70.3" y1="200.4" x2="70.3" y2="202.4" class="tk"/>
<line x1="74.6" y1="201.2" x2="74.6" y2="202.4" class="tk"/>
<line x1="78.9" y1="199.6" x2="78.9" y2="202.4" class="tk"/>
<line x1="83.2" y1="201.2" x2="83.2" y2="202.4" class="tk"/>
<line x1="87.5" y1="200.4" x2="87.5" y2="202.4" class="tk"/>
<line x1="91.8" y1="201.2" x2="91.8" y2="202.4" class="tk"/>
<line x1="96.1" y1="199.6" x2="96.1" y2="202.4" class="tk"/>
<line x1="100.4" y1="201.2" x2="100.4" y2="202.4" class="tk"/>
<line x1="104.7" y1="200.4" x2="104.7" y2="202.4" class="tk"/>
<line x1="109" y1="201.2" x2="109" y2="202.4" class="tk"/>
<line x1="113.3" y1="199.6" x2="113.3" y2="202.4" class="tk"/>
<line x1="117.6" y1="201.2" x2="117.6" y2="202.4" class="tk"/>
<line x1="121.9" y1="200.4" x2="121.9" y2="202.4" class="tk"/>
<line x1="126.2" y1="201.2" x2="126.2" y2="202.4" class="tk"/>
<line x1="130.5" y1="199.6" x2="130.5" y2="202.4" class="tk"/>
<line x1="134.8" y1="201.2" x2="134.8" y2="202.4" class="tk"/>
<line x1="139.1" y1="200.4" x2="139.1" y2="202.4" class="tk"/>
<line x1="143.4" y1="201.2" x2="143.4" y2="202.4" class="tk"/>
<line x1="147.7" y1="199.6" x2="147.7" y2="202.4" class="tk"/>
<line x1="152" y1="201.2" x2="152" y2="202.4" class="tk"/>
<line x1="156.3" y1="200.4" x2="156.3" y2="202.4" class="tk"/>
<line x1="160.6" y1="201.2" x2="160.6" y2="202.4" class="tk"/>
<line x1="37" y1="204.45" x2="38.3" y2="204.45" class="tk"/>
<line x1="37" y1="209.82" x2="38.3" y2="209.82" class="tk"/>
<line x1="35.9" y1="215.2" x2="38.3" y2="215.2" class="tk"/>
<line x1="37" y1="220.57" x2="38.3" y2="220.57" class="tk"/>
<line x1="37" y1="225.95" x2="38.3" y2="225.95" class="tk"/>
<line x1="37" y1="231.32" x2="38.3" y2="231.32" class="tk"/>
<line x1="35.9" y1="236.7" x2="38.3" y2="236.7" class="tk"/>
<line x1="37" y1="242.07" x2="38.3" y2="242.07" class="tk"/>
<line x1="37" y1="247.45" x2="38.3" y2="247.45" class="tk"/>
<line x1="37" y1="252.82" x2="38.3" y2="252.82" class="tk"/>
<line x1="35.9" y1="258.2" x2="38.3" y2="258.2" class="tk"/>
<line x1="37" y1="263.57" x2="38.3" y2="263.57" class="tk"/>
<line x1="37" y1="268.95" x2="38.3" y2="268.95" class="tk"/>
<line x1="37" y1="274.32" x2="38.3" y2="274.32" class="tk"/>
<line x1="35.9" y1="279.7" x2="38.3" y2="279.7" class="tk"/>
<line x1="37" y1="285.07" x2="38.3" y2="285.07" class="tk"/>
<line x1="37" y1="290.45" x2="38.3" y2="290.45" class="tk"/>
<line x1="37" y1="295.82" x2="38.3" y2="295.82" class="tk"/>
<line x1="35.9" y1="301.2" x2="38.3" y2="301.2" class="tk"/>
<line x1="37" y1="306.57" x2="38.3" y2="306.57" class="tk"/>
<line x1="37" y1="311.95" x2="38.3" y2="311.95" class="tk"/>
<text x="41.8" y="195.7" class="ax" text-anchor="middle">–2000</text>
<text x="62.1" y="195.7" class="ax" text-anchor="middle">0</text>
<text x="81.2" y="195.7" class="ax" text-anchor="middle">2000</text>
<text x="113.5" y="195.7" class="ax" text-anchor="middle">4000</text>
<text x="147.8" y="195.7" class="ax" text-anchor="middle">10,000</text>
<text x="33.3" y="217.3" class="yl" text-anchor="end">1.4</text>
<text x="33.3" y="238.8" class="yl" text-anchor="end">1.2</text>
<text x="30.2" y="260.3" class="yl" text-anchor="end">1</text>
<text x="31.5" y="281.8" class="yl" text-anchor="end">0.8</text>
<text x="32.3" y="303.3" class="yl" text-anchor="end">0.6</text>
<text transform="translate(17.1,257.9) rotate(-90)" class="nav" text-anchor="middle">NAvO</text>
<text x="41.8" y="211.2" class="tow" textLength="43.3" lengthAdjust="spacingAndGlyphs">Tow Direction:</text>
<path d="M87,209.6 h2.6" stroke="#222" stroke-width="0.9"/>
<path d="M89.2,208.6 l2.3,1.0 l-2.3,1.0 z" fill="#222"/>
<text x="159.1" y="215.6" class="tx" text-anchor="end">Tx004</text>
<text x="41.6" y="308.8" class="sn">S</text>
<text x="158.4" y="308.6" class="sn" text-anchor="end">N</text>
<circle cx="48.8" cy="257.7" r="2.6" class="pl"/>
<circle cx="57.35" cy="258" r="2.6" class="pl"/>
<circle cx="65.9" cy="258.2" r="2.6" class="pl"/>
<circle cx="74.45" cy="259.2" r="2.6" class="pd"/>
<circle cx="83" cy="260.3" r="2.6" class="pd"/>
<circle cx="91.55" cy="263.1" r="2.6" class="pd"/>
<circle cx="100.1" cy="269.4" r="2.6" class="pd"/>
<circle cx="108.65" cy="284.2" r="2.6" class="pd"/>
<circle cx="117.2" cy="278.2" r="2.6" class="pd"/>
<circle cx="125.75" cy="273" r="2.6" class="pd"/>
<circle cx="134.3" cy="260.8" r="2.6" class="pd"/>
<circle cx="142.85" cy="257.9" r="2.6" class="pd"/>
<circle cx="151.4" cy="257.9" r="2.6" class="pd"/>
<rect x="45.2" y="313" width="109.1" height="12.3" fill="#9ad6ec"/>
<rect x="45.2" y="313" width="109.1" height="0.9" fill="#5f8598"/>
<path d="M45.2,316.2 L154.3,316.4 L154.3,317.3 L45.2,317.2 Z" fill="#78a6bb"/>
<path d="M45.2,318.9 L65.2,319.1 L90.2,318.8 L115.2,319.3 L133.2,320.2 L145.2,320 L154.3,320.4 L154.3,322.9 L45.2,322.9 Z" fill="#9a5512"/>
<rect x="45.2" y="324.5" width="109.1" height="0.8" fill="#6f8c9a"/>
<line x1="45.5" y1="313" x2="45.5" y2="325.3" stroke="#6a8090" stroke-width="0.7"/>
<path d="M66.4,316.6 L69,322.2 L63.8,322.2 Z" class="tri"/>
<path d="M73.9,316.71 L76.5,322.31 L71.3,322.31 Z" class="tri"/>
<path d="M81.4,316.82 L84,322.42 L78.8,322.42 Z" class="tri"/>
<path d="M88.9,316.93 L91.5,322.53 L86.3,322.53 Z" class="tri"/>
<path d="M96.4,317.04 L99,322.64 L93.8,322.64 Z" class="tri"/>
<path d="M103.9,317.16 L106.5,322.76 L101.3,322.76 Z" class="tri"/>
<path d="M111.4,317.27 L114,322.87 L108.8,322.87 Z" class="tri"/>
<path d="M118.9,317.38 L121.5,322.98 L116.3,322.98 Z" class="tri"/>
<path d="M126.4,317.49 L129,323.09 L123.8,323.09 Z" class="tri"/>
<path d="M133.9,317.6 L136.5,323.2 L131.3,323.2 Z" class="tri"/>
<line x1="47.65" y1="325.4" x2="47.65" y2="326.8" class="tk2"/>
<line x1="51.4" y1="325.4" x2="51.4" y2="328" class="tk2"/>
<line x1="55.15" y1="325.4" x2="55.15" y2="326.8" class="tk2"/>
<line x1="58.9" y1="325.4" x2="58.9" y2="328" class="tk2"/>
<line x1="62.65" y1="325.4" x2="62.65" y2="326.8" class="tk2"/>
<line x1="66.4" y1="325.4" x2="66.4" y2="328" class="tk2"/>
<line x1="70.15" y1="325.4" x2="70.15" y2="326.8" class="tk2"/>
<line x1="73.9" y1="325.4" x2="73.9" y2="328" class="tk2"/>
<line x1="77.65" y1="325.4" x2="77.65" y2="326.8" class="tk2"/>
<line x1="81.4" y1="325.4" x2="81.4" y2="328" class="tk2"/>
<line x1="85.15" y1="325.4" x2="85.15" y2="326.8" class="tk2"/>
<line x1="88.9" y1="325.4" x2="88.9" y2="328" class="tk2"/>
<line x1="92.65" y1="325.4" x2="92.65" y2="326.8" class="tk2"/>
<line x1="96.4" y1="325.4" x2="96.4" y2="328" class="tk2"/>
<line x1="100.15" y1="325.4" x2="100.15" y2="326.8" class="tk2"/>
<line x1="103.9" y1="325.4" x2="103.9" y2="328" class="tk2"/>
<line x1="107.65" y1="325.4" x2="107.65" y2="326.8" class="tk2"/>
<line x1="111.4" y1="325.4" x2="111.4" y2="328" class="tk2"/>
<line x1="115.15" y1="325.4" x2="115.15" y2="326.8" class="tk2"/>
<line x1="118.9" y1="325.4" x2="118.9" y2="328" class="tk2"/>
<line x1="122.65" y1="325.4" x2="122.65" y2="326.8" class="tk2"/>
<line x1="126.4" y1="325.4" x2="126.4" y2="328" class="tk2"/>
<line x1="130.15" y1="325.4" x2="130.15" y2="326.8" class="tk2"/>
<line x1="133.9" y1="325.4" x2="133.9" y2="328" class="tk2"/>
<line x1="137.65" y1="325.4" x2="137.65" y2="326.8" class="tk2"/>
<line x1="141.4" y1="325.4" x2="141.4" y2="328" class="tk2"/>
<line x1="145.15" y1="325.4" x2="145.15" y2="326.8" class="tk2"/>
<line x1="148.9" y1="325.4" x2="148.9" y2="328" class="tk2"/>
<line x1="152.65" y1="325.4" x2="152.65" y2="326.8" class="tk2"/>
<text x="46.2" y="336.8" class="ax" text-anchor="middle">–2000</text>
<text x="66.6" y="336.8" class="ax" text-anchor="middle">0</text>
<text x="85.3" y="336.8" class="ax" text-anchor="middle">2000</text>
<text x="117.5" y="336.8" class="ax" text-anchor="middle">4000</text>
<text x="151.9" y="336.8" class="ax" text-anchor="middle">10,000</text>
<text x="48.8" y="346.1" class="xt">Distance from first receiver [m]</text>
<text transform="translate(30.7,324.5) rotate(-90)" class="dep" text-anchor="middle">Depth [m]</text>
<text x="198.8" y="185.9" class="let">e</text>
<line x1="234.6" y1="202.7" x2="234.6" y2="313.5" class="grid"/>
<line x1="251.8" y1="202.7" x2="251.8" y2="313.5" class="grid"/>
<line x1="269" y1="202.7" x2="269" y2="313.5" class="grid"/>
<line x1="286.2" y1="202.7" x2="286.2" y2="313.5" class="grid"/>
<line x1="303.4" y1="202.7" x2="303.4" y2="313.5" class="grid"/>
<line x1="320.6" y1="202.7" x2="320.6" y2="313.5" class="grid"/>
<line x1="337.8" y1="202.7" x2="337.8" y2="313.5" class="grid"/>
<line x1="228.4" y1="215.5" x2="352" y2="215.5" class="grid"/>
<line x1="228.4" y1="237" x2="352" y2="237" class="grid"/>
<line x1="228.4" y1="280" x2="352" y2="280" class="grid"/>
<line x1="228.4" y1="301.5" x2="352" y2="301.5" class="grid"/>
<line x1="229.4" y1="258.5" x2="351" y2="258.5" class="dot"/>
<line x1="228.4" y1="202.7" x2="228.4" y2="313.5" class="bl"/>
<line x1="352" y1="202.7" x2="352" y2="313.5" class="br"/>
<line x1="228.4" y1="202.7" x2="352" y2="202.7" class="bt"/>
<line x1="228.4" y1="313.5" x2="352" y2="313.5" class="bb"/>
<line x1="230.3" y1="201.5" x2="230.3" y2="202.7" class="tk"/>
<line x1="234.6" y1="199.9" x2="234.6" y2="202.7" class="tk"/>
<line x1="238.9" y1="201.5" x2="238.9" y2="202.7" class="tk"/>
<line x1="243.2" y1="200.7" x2="243.2" y2="202.7" class="tk"/>
<line x1="247.5" y1="201.5" x2="247.5" y2="202.7" class="tk"/>
<line x1="251.8" y1="199.9" x2="251.8" y2="202.7" class="tk"/>
<line x1="256.1" y1="201.5" x2="256.1" y2="202.7" class="tk"/>
<line x1="260.4" y1="200.7" x2="260.4" y2="202.7" class="tk"/>
<line x1="264.7" y1="201.5" x2="264.7" y2="202.7" class="tk"/>
<line x1="269" y1="199.9" x2="269" y2="202.7" class="tk"/>
<line x1="273.3" y1="201.5" x2="273.3" y2="202.7" class="tk"/>
<line x1="277.6" y1="200.7" x2="277.6" y2="202.7" class="tk"/>
<line x1="281.9" y1="201.5" x2="281.9" y2="202.7" class="tk"/>
<line x1="286.2" y1="199.9" x2="286.2" y2="202.7" class="tk"/>
<line x1="290.5" y1="201.5" x2="290.5" y2="202.7" class="tk"/>
<line x1="294.8" y1="200.7" x2="294.8" y2="202.7" class="tk"/>
<line x1="299.1" y1="201.5" x2="299.1" y2="202.7" class="tk"/>
<line x1="303.4" y1="199.9" x2="303.4" y2="202.7" class="tk"/>
<line x1="307.7" y1="201.5" x2="307.7" y2="202.7" class="tk"/>
<line x1="312" y1="200.7" x2="312" y2="202.7" class="tk"/>
<line x1="316.3" y1="201.5" x2="316.3" y2="202.7" class="tk"/>
<line x1="320.6" y1="199.9" x2="320.6" y2="202.7" class="tk"/>
<line x1="324.9" y1="201.5" x2="324.9" y2="202.7" class="tk"/>
<line x1="329.2" y1="200.7" x2="329.2" y2="202.7" class="tk"/>
<line x1="333.5" y1="201.5" x2="333.5" y2="202.7" class="tk"/>
<line x1="337.8" y1="199.9" x2="337.8" y2="202.7" class="tk"/>
<line x1="342.1" y1="201.5" x2="342.1" y2="202.7" class="tk"/>
<line x1="346.4" y1="200.7" x2="346.4" y2="202.7" class="tk"/>
<line x1="350.7" y1="201.5" x2="350.7" y2="202.7" class="tk"/>
<line x1="227.1" y1="204.75" x2="228.4" y2="204.75" class="tk"/>
<line x1="227.1" y1="210.12" x2="228.4" y2="210.12" class="tk"/>
<line x1="226" y1="215.5" x2="228.4" y2="215.5" class="tk"/>
<line x1="227.1" y1="220.88" x2="228.4" y2="220.88" class="tk"/>
<line x1="227.1" y1="226.25" x2="228.4" y2="226.25" class="tk"/>
<line x1="227.1" y1="231.62" x2="228.4" y2="231.62" class="tk"/>
<line x1="226" y1="237" x2="228.4" y2="237" class="tk"/>
<line x1="227.1" y1="242.38" x2="228.4" y2="242.38" class="tk"/>
<line x1="227.1" y1="247.75" x2="228.4" y2="247.75" class="tk"/>
<line x1="227.1" y1="253.12" x2="228.4" y2="253.12" class="tk"/>
<line x1="226" y1="258.5" x2="228.4" y2="258.5" class="tk"/>
<line x1="227.1" y1="263.88" x2="228.4" y2="263.88" class="tk"/>
<line x1="227.1" y1="269.25" x2="228.4" y2="269.25" class="tk"/>
<line x1="227.1" y1="274.62" x2="228.4" y2="274.62" class="tk"/>
<line x1="226" y1="280" x2="228.4" y2="280" class="tk"/>
<line x1="227.1" y1="285.38" x2="228.4" y2="285.38" class="tk"/>
<line x1="227.1" y1="290.75" x2="228.4" y2="290.75" class="tk"/>
<line x1="227.1" y1="296.12" x2="228.4" y2="296.12" class="tk"/>
<line x1="226" y1="301.5" x2="228.4" y2="301.5" class="tk"/>
<line x1="227.1" y1="306.88" x2="228.4" y2="306.88" class="tk"/>
<line x1="227.1" y1="312.25" x2="228.4" y2="312.25" class="tk"/>
<text x="231.9" y="195.4" class="ax" text-anchor="middle">–2000</text>
<text x="252.2" y="195.4" class="ax" text-anchor="middle">0</text>
<text x="271.3" y="195.4" class="ax" text-anchor="middle">2000</text>
<text x="303.6" y="195.4" class="ax" text-anchor="middle">4000</text>
<text x="337.9" y="195.4" class="ax" text-anchor="middle">10,000</text>
<text x="223.4" y="217.6" class="yl" text-anchor="end">1.4</text>
<text x="223.4" y="239.1" class="yl" text-anchor="end">1.2</text>
<text x="220.3" y="260.6" class="yl" text-anchor="end">1</text>
<text x="221.6" y="282.1" class="yl" text-anchor="end">0.8</text>
<text x="222.4" y="303.6" class="yl" text-anchor="end">0.6</text>
<text transform="translate(207.2,258.2) rotate(-90)" class="nav" text-anchor="middle">NAvO</text>
<text x="231.9" y="211.5" class="tow" textLength="43.3" lengthAdjust="spacingAndGlyphs">Tow Direction:</text>
<path d="M277.1,209.9 h2.6" stroke="#222" stroke-width="0.9"/>
<path d="M279.3,208.9 l2.3,1.0 l-2.3,1.0 z" fill="#222"/>
<text x="349.2" y="215.9" class="tx" text-anchor="end">Tx004</text>
<text x="231.7" y="309.1" class="sn">S</text>
<text x="348.5" y="308.9" class="sn" text-anchor="end">N</text>
<circle cx="298.75" cy="306.5" r="2.6" class="pl"/>
<circle cx="307.3" cy="297.1" r="2.6" class="pl"/>
<circle cx="238.9" cy="258.1" r="2.6" class="pl"/>
<circle cx="247.45" cy="258.8" r="2.6" class="pl"/>
<circle cx="256" cy="261" r="2.6" class="pl"/>
<circle cx="264.55" cy="261.4" r="2.6" class="pd"/>
<circle cx="273.1" cy="271.5" r="2.6" class="pd"/>
<circle cx="281.65" cy="275.4" r="2.6" class="pd"/>
<circle cx="290.2" cy="283.6" r="2.6" class="pd"/>
<circle cx="298.75" cy="307.7" r="2.6" class="pd"/>
<circle cx="307.3" cy="298.6" r="2.6" class="pd"/>
<circle cx="315.85" cy="291.4" r="2.6" class="pd"/>
<circle cx="324.4" cy="270.6" r="2.6" class="pd"/>
<circle cx="332.95" cy="258.1" r="2.6" class="pd"/>
<circle cx="341.5" cy="258.1" r="2.6" class="pd"/>
<rect x="235.3" y="313.3" width="109.1" height="12.3" fill="#9ad6ec"/>
<rect x="235.3" y="313.3" width="109.1" height="0.9" fill="#5f8598"/>
<path d="M235.3,316.5 L344.4,316.7 L344.4,317.6 L235.3,317.5 Z" fill="#78a6bb"/>
<path d="M235.3,319.2 L255.3,319.4 L280.3,319.1 L305.3,319.6 L323.3,320.5 L335.3,320.3 L344.4,320.7 L344.4,323.2 L235.3,323.2 Z" fill="#9a5512"/>
<rect x="235.3" y="324.8" width="109.1" height="0.8" fill="#6f8c9a"/>
<line x1="235.6" y1="313.3" x2="235.6" y2="325.6" stroke="#6a8090" stroke-width="0.7"/>
<path d="M256.5,316.9 L259.1,322.5 L253.9,322.5 Z" class="tri"/>
<path d="M264,317.01 L266.6,322.61 L261.4,322.61 Z" class="tri"/>
<path d="M271.5,317.12 L274.1,322.72 L268.9,322.72 Z" class="tri"/>
<path d="M279,317.23 L281.6,322.83 L276.4,322.83 Z" class="tri"/>
<path d="M286.5,317.34 L289.1,322.94 L283.9,322.94 Z" class="tri"/>
<path d="M294,317.46 L296.6,323.06 L291.4,323.06 Z" class="tri"/>
<path d="M301.5,317.57 L304.1,323.17 L298.9,323.17 Z" class="tri"/>
<path d="M309,317.68 L311.6,323.28 L306.4,323.28 Z" class="tri"/>
<path d="M316.5,317.79 L319.1,323.39 L313.9,323.39 Z" class="tri"/>
<path d="M324,317.9 L326.6,323.5 L321.4,323.5 Z" class="tri"/>
<line x1="237.75" y1="325.7" x2="237.75" y2="327.1" class="tk2"/>
<line x1="241.5" y1="325.7" x2="241.5" y2="328.3" class="tk2"/>
<line x1="245.25" y1="325.7" x2="245.25" y2="327.1" class="tk2"/>
<line x1="249" y1="325.7" x2="249" y2="328.3" class="tk2"/>
<line x1="252.75" y1="325.7" x2="252.75" y2="327.1" class="tk2"/>
<line x1="256.5" y1="325.7" x2="256.5" y2="328.3" class="tk2"/>
<line x1="260.25" y1="325.7" x2="260.25" y2="327.1" class="tk2"/>
<line x1="264" y1="325.7" x2="264" y2="328.3" class="tk2"/>
<line x1="267.75" y1="325.7" x2="267.75" y2="327.1" class="tk2"/>
<line x1="271.5" y1="325.7" x2="271.5" y2="328.3" class="tk2"/>
<line x1="275.25" y1="325.7" x2="275.25" y2="327.1" class="tk2"/>
<line x1="279" y1="325.7" x2="279" y2="328.3" class="tk2"/>
<line x1="282.75" y1="325.7" x2="282.75" y2="327.1" class="tk2"/>
<line x1="286.5" y1="325.7" x2="286.5" y2="328.3" class="tk2"/>
<line x1="290.25" y1="325.7" x2="290.25" y2="327.1" class="tk2"/>
<line x1="294" y1="325.7" x2="294" y2="328.3" class="tk2"/>
<line x1="297.75" y1="325.7" x2="297.75" y2="327.1" class="tk2"/>
<line x1="301.5" y1="325.7" x2="301.5" y2="328.3" class="tk2"/>
<line x1="305.25" y1="325.7" x2="305.25" y2="327.1" class="tk2"/>
<line x1="309" y1="325.7" x2="309" y2="328.3" class="tk2"/>
<line x1="312.75" y1="325.7" x2="312.75" y2="327.1" class="tk2"/>
<line x1="316.5" y1="325.7" x2="316.5" y2="328.3" class="tk2"/>
<line x1="320.25" y1="325.7" x2="320.25" y2="327.1" class="tk2"/>
<line x1="324" y1="325.7" x2="324" y2="328.3" class="tk2"/>
<line x1="327.75" y1="325.7" x2="327.75" y2="327.1" class="tk2"/>
<line x1="331.5" y1="325.7" x2="331.5" y2="328.3" class="tk2"/>
<line x1="335.25" y1="325.7" x2="335.25" y2="327.1" class="tk2"/>
<line x1="339" y1="325.7" x2="339" y2="328.3" class="tk2"/>
<line x1="342.75" y1="325.7" x2="342.75" y2="327.1" class="tk2"/>
<text x="236.3" y="337.1" class="ax" text-anchor="middle">–2000</text>
<text x="256.7" y="337.1" class="ax" text-anchor="middle">0</text>
<text x="275.4" y="337.1" class="ax" text-anchor="middle">2000</text>
<text x="307.6" y="337.1" class="ax" text-anchor="middle">4000</text>
<text x="342" y="337.1" class="ax" text-anchor="middle">10,000</text>
<text x="238.9" y="346.4" class="xt">Distance from first receiver [m]</text>
<text transform="translate(220.8,324.8) rotate(-90)" class="dep" text-anchor="middle">Depth [m]</text>
<text x="391.1" y="185.1" class="let">f</text>
<line x1="424.8" y1="197.3" x2="424.8" y2="308.1" class="grid"/>
<line x1="442" y1="197.3" x2="442" y2="308.1" class="grid"/>
<line x1="459.2" y1="197.3" x2="459.2" y2="308.1" class="grid"/>
<line x1="476.4" y1="197.3" x2="476.4" y2="308.1" class="grid"/>
<line x1="493.6" y1="197.3" x2="493.6" y2="308.1" class="grid"/>
<line x1="510.8" y1="197.3" x2="510.8" y2="308.1" class="grid"/>
<line x1="528" y1="197.3" x2="528" y2="308.1" class="grid"/>
<line x1="418.6" y1="209.8" x2="542.7" y2="209.8" class="grid"/>
<line x1="418.6" y1="231.3" x2="542.7" y2="231.3" class="grid"/>
<line x1="418.6" y1="274.3" x2="542.7" y2="274.3" class="grid"/>
<line x1="418.6" y1="295.8" x2="542.7" y2="295.8" class="grid"/>
<line x1="419.6" y1="252.8" x2="541.7" y2="252.8" class="dot"/>
<line x1="418.6" y1="197.3" x2="418.6" y2="308.1" class="bl"/>
<line x1="542.7" y1="197.3" x2="542.7" y2="308.1" class="br"/>
<line x1="418.6" y1="197.3" x2="542.7" y2="197.3" class="bt"/>
<line x1="418.6" y1="308.1" x2="542.7" y2="308.1" class="bb"/>
<line x1="420.5" y1="196.1" x2="420.5" y2="197.3" class="tk"/>
<line x1="424.8" y1="194.5" x2="424.8" y2="197.3" class="tk"/>
<line x1="429.1" y1="196.1" x2="429.1" y2="197.3" class="tk"/>
<line x1="433.4" y1="195.3" x2="433.4" y2="197.3" class="tk"/>
<line x1="437.7" y1="196.1" x2="437.7" y2="197.3" class="tk"/>
<line x1="442" y1="194.5" x2="442" y2="197.3" class="tk"/>
<line x1="446.3" y1="196.1" x2="446.3" y2="197.3" class="tk"/>
<line x1="450.6" y1="195.3" x2="450.6" y2="197.3" class="tk"/>
<line x1="454.9" y1="196.1" x2="454.9" y2="197.3" class="tk"/>
<line x1="459.2" y1="194.5" x2="459.2" y2="197.3" class="tk"/>
<line x1="463.5" y1="196.1" x2="463.5" y2="197.3" class="tk"/>
<line x1="467.8" y1="195.3" x2="467.8" y2="197.3" class="tk"/>
<line x1="472.1" y1="196.1" x2="472.1" y2="197.3" class="tk"/>
<line x1="476.4" y1="194.5" x2="476.4" y2="197.3" class="tk"/>
<line x1="480.7" y1="196.1" x2="480.7" y2="197.3" class="tk"/>
<line x1="485" y1="195.3" x2="485" y2="197.3" class="tk"/>
<line x1="489.3" y1="196.1" x2="489.3" y2="197.3" class="tk"/>
<line x1="493.6" y1="194.5" x2="493.6" y2="197.3" class="tk"/>
<line x1="497.9" y1="196.1" x2="497.9" y2="197.3" class="tk"/>
<line x1="502.2" y1="195.3" x2="502.2" y2="197.3" class="tk"/>
<line x1="506.5" y1="196.1" x2="506.5" y2="197.3" class="tk"/>
<line x1="510.8" y1="194.5" x2="510.8" y2="197.3" class="tk"/>
<line x1="515.1" y1="196.1" x2="515.1" y2="197.3" class="tk"/>
<line x1="519.4" y1="195.3" x2="519.4" y2="197.3" class="tk"/>
<line x1="523.7" y1="196.1" x2="523.7" y2="197.3" class="tk"/>
<line x1="528" y1="194.5" x2="528" y2="197.3" class="tk"/>
<line x1="532.3" y1="196.1" x2="532.3" y2="197.3" class="tk"/>
<line x1="536.6" y1="195.3" x2="536.6" y2="197.3" class="tk"/>
<line x1="540.9" y1="196.1" x2="540.9" y2="197.3" class="tk"/>
<line x1="417.3" y1="199.05" x2="418.6" y2="199.05" class="tk"/>
<line x1="417.3" y1="204.43" x2="418.6" y2="204.43" class="tk"/>
<line x1="416.2" y1="209.8" x2="418.6" y2="209.8" class="tk"/>
<line x1="417.3" y1="215.18" x2="418.6" y2="215.18" class="tk"/>
<line x1="417.3" y1="220.55" x2="418.6" y2="220.55" class="tk"/>
<line x1="417.3" y1="225.93" x2="418.6" y2="225.93" class="tk"/>
<line x1="416.2" y1="231.3" x2="418.6" y2="231.3" class="tk"/>
<line x1="417.3" y1="236.68" x2="418.6" y2="236.68" class="tk"/>
<line x1="417.3" y1="242.05" x2="418.6" y2="242.05" class="tk"/>
<line x1="417.3" y1="247.43" x2="418.6" y2="247.43" class="tk"/>
<line x1="416.2" y1="252.8" x2="418.6" y2="252.8" class="tk"/>
<line x1="417.3" y1="258.18" x2="418.6" y2="258.18" class="tk"/>
<line x1="417.3" y1="263.55" x2="418.6" y2="263.55" class="tk"/>
<line x1="417.3" y1="268.93" x2="418.6" y2="268.93" class="tk"/>
<line x1="416.2" y1="274.3" x2="418.6" y2="274.3" class="tk"/>
<line x1="417.3" y1="279.68" x2="418.6" y2="279.68" class="tk"/>
<line x1="417.3" y1="285.05" x2="418.6" y2="285.05" class="tk"/>
<line x1="417.3" y1="290.43" x2="418.6" y2="290.43" class="tk"/>
<line x1="416.2" y1="295.8" x2="418.6" y2="295.8" class="tk"/>
<line x1="417.3" y1="301.18" x2="418.6" y2="301.18" class="tk"/>
<line x1="417.3" y1="306.55" x2="418.6" y2="306.55" class="tk"/>
<text x="422.1" y="190.9" class="ax" text-anchor="middle">–2000</text>
<text x="442.4" y="190.9" class="ax" text-anchor="middle">0</text>
<text x="461.5" y="190.9" class="ax" text-anchor="middle">2000</text>
<text x="493.8" y="190.9" class="ax" text-anchor="middle">4000</text>
<text x="528.1" y="190.9" class="ax" text-anchor="middle">10,000</text>
<text x="413.6" y="211.9" class="yl" text-anchor="end">1.4</text>
<text x="413.6" y="233.4" class="yl" text-anchor="end">1.2</text>
<text x="410.5" y="254.9" class="yl" text-anchor="end">1</text>
<text x="411.8" y="276.4" class="yl" text-anchor="end">0.8</text>
<text x="412.6" y="297.9" class="yl" text-anchor="end">0.6</text>
<text transform="translate(397.4,252.8) rotate(-90)" class="nav" text-anchor="middle">NAvO</text>
<text x="422.1" y="206.1" class="tow" textLength="43.3" lengthAdjust="spacingAndGlyphs">Tow Direction:</text>
<path d="M467.3,204.5 h2.6" stroke="#222" stroke-width="0.9"/>
<path d="M469.5,203.5 l2.3,1.0 l-2.3,1.0 z" fill="#222"/>
<text x="539.4" y="210.5" class="tx" text-anchor="end">Tx004</text>
<text x="421.9" y="303.7" class="sn">S</text>
<text x="538.7" y="303.5" class="sn" text-anchor="end">N</text>
<circle cx="489.3" cy="306.4" r="2.6" class="pl"/>
<circle cx="497.9" cy="297.2" r="2.6" class="pl"/>
<circle cx="429.1" cy="252.4" r="2.6" class="pl"/>
<circle cx="437.7" cy="253.4" r="2.6" class="pl"/>
<circle cx="446.3" cy="256.5" r="2.6" class="pl"/>
<circle cx="454.9" cy="260.8" r="2.6" class="pd"/>
<circle cx="463.5" cy="271.9" r="2.6" class="pd"/>
<circle cx="472.1" cy="277.7" r="2.6" class="pd"/>
<circle cx="480.7" cy="285.1" r="2.6" class="pd"/>
<circle cx="489.3" cy="307.8" r="2.6" class="pd"/>
<circle cx="497.9" cy="298.7" r="2.6" class="pd"/>
<circle cx="506.5" cy="288.8" r="2.6" class="pd"/>
<circle cx="515.1" cy="267.3" r="2.6" class="pd"/>
<circle cx="523.7" cy="252.4" r="2.6" class="pd"/>
<circle cx="532.3" cy="252.4" r="2.6" class="pd"/>
<rect x="425.5" y="307.9" width="109.1" height="12.3" fill="#9ad6ec"/>
<rect x="425.5" y="307.9" width="109.1" height="0.9" fill="#5f8598"/>
<path d="M425.5,311.1 L534.6,311.3 L534.6,312.2 L425.5,312.1 Z" fill="#78a6bb"/>
<path d="M425.5,313.8 L445.5,314 L470.5,313.7 L495.5,314.2 L513.5,315.1 L525.5,314.9 L534.6,315.3 L534.6,317.8 L425.5,317.8 Z" fill="#9a5512"/>
<rect x="425.5" y="319.4" width="109.1" height="0.8" fill="#6f8c9a"/>
<line x1="425.8" y1="307.9" x2="425.8" y2="320.2" stroke="#6a8090" stroke-width="0.7"/>
<path d="M446.7,311.5 L449.3,317.1 L444.1,317.1 Z" class="tri"/>
<path d="M454.2,311.61 L456.8,317.21 L451.6,317.21 Z" class="tri"/>
<path d="M461.7,311.72 L464.3,317.32 L459.1,317.32 Z" class="tri"/>
<path d="M469.2,311.83 L471.8,317.43 L466.6,317.43 Z" class="tri"/>
<path d="M476.7,311.94 L479.3,317.54 L474.1,317.54 Z" class="tri"/>
<path d="M484.2,312.06 L486.8,317.66 L481.6,317.66 Z" class="tri"/>
<path d="M491.7,312.17 L494.3,317.77 L489.1,317.77 Z" class="tri"/>
<path d="M499.2,312.28 L501.8,317.88 L496.6,317.88 Z" class="tri"/>
<path d="M506.7,312.39 L509.3,317.99 L504.1,317.99 Z" class="tri"/>
<path d="M514.2,312.5 L516.8,318.1 L511.6,318.1 Z" class="tri"/>
<line x1="427.95" y1="320.3" x2="427.95" y2="321.7" class="tk2"/>
<line x1="431.7" y1="320.3" x2="431.7" y2="322.9" class="tk2"/>
<line x1="435.45" y1="320.3" x2="435.45" y2="321.7" class="tk2"/>
<line x1="439.2" y1="320.3" x2="439.2" y2="322.9" class="tk2"/>
<line x1="442.95" y1="320.3" x2="442.95" y2="321.7" class="tk2"/>
<line x1="446.7" y1="320.3" x2="446.7" y2="322.9" class="tk2"/>
<line x1="450.45" y1="320.3" x2="450.45" y2="321.7" class="tk2"/>
<line x1="454.2" y1="320.3" x2="454.2" y2="322.9" class="tk2"/>
<line x1="457.95" y1="320.3" x2="457.95" y2="321.7" class="tk2"/>
<line x1="461.7" y1="320.3" x2="461.7" y2="322.9" class="tk2"/>
<line x1="465.45" y1="320.3" x2="465.45" y2="321.7" class="tk2"/>
<line x1="469.2" y1="320.3" x2="469.2" y2="322.9" class="tk2"/>
<line x1="472.95" y1="320.3" x2="472.95" y2="321.7" class="tk2"/>
<line x1="476.7" y1="320.3" x2="476.7" y2="322.9" class="tk2"/>
<line x1="480.45" y1="320.3" x2="480.45" y2="321.7" class="tk2"/>
<line x1="484.2" y1="320.3" x2="484.2" y2="322.9" class="tk2"/>
<line x1="487.95" y1="320.3" x2="487.95" y2="321.7" class="tk2"/>
<line x1="491.7" y1="320.3" x2="491.7" y2="322.9" class="tk2"/>
<line x1="495.45" y1="320.3" x2="495.45" y2="321.7" class="tk2"/>
<line x1="499.2" y1="320.3" x2="499.2" y2="322.9" class="tk2"/>
<line x1="502.95" y1="320.3" x2="502.95" y2="321.7" class="tk2"/>
<line x1="506.7" y1="320.3" x2="506.7" y2="322.9" class="tk2"/>
<line x1="510.45" y1="320.3" x2="510.45" y2="321.7" class="tk2"/>
<line x1="514.2" y1="320.3" x2="514.2" y2="322.9" class="tk2"/>
<line x1="517.95" y1="320.3" x2="517.95" y2="321.7" class="tk2"/>
<line x1="521.7" y1="320.3" x2="521.7" y2="322.9" class="tk2"/>
<line x1="525.45" y1="320.3" x2="525.45" y2="321.7" class="tk2"/>
<line x1="529.2" y1="320.3" x2="529.2" y2="322.9" class="tk2"/>
<line x1="532.95" y1="320.3" x2="532.95" y2="321.7" class="tk2"/>
<text x="426.5" y="331.7" class="ax" text-anchor="middle">–2000</text>
<text x="446.9" y="331.7" class="ax" text-anchor="middle">0</text>
<text x="465.6" y="331.7" class="ax" text-anchor="middle">2000</text>
<text x="497.8" y="331.7" class="ax" text-anchor="middle">4000</text>
<text x="532.2" y="331.7" class="ax" text-anchor="middle">10,000</text>
<text x="429.1" y="341" class="xt">Distance from first receiver [m]</text>
<text transform="translate(411,319.4) rotate(-90)" class="dep" text-anchor="middle">Depth [m]</text>
<text x="4.8" y="356.4" class="let">g</text>
<line x1="44.5" y1="370.5" x2="44.5" y2="482" class="grid"/>
<line x1="61.7" y1="370.5" x2="61.7" y2="482" class="grid"/>
<line x1="78.9" y1="370.5" x2="78.9" y2="482" class="grid"/>
<line x1="96.1" y1="370.5" x2="96.1" y2="482" class="grid"/>
<line x1="113.3" y1="370.5" x2="113.3" y2="482" class="grid"/>
<line x1="130.5" y1="370.5" x2="130.5" y2="482" class="grid"/>
<line x1="147.7" y1="370.5" x2="147.7" y2="482" class="grid"/>
<line x1="38.3" y1="383.7" x2="161.9" y2="383.7" class="grid"/>
<line x1="38.3" y1="405.2" x2="161.9" y2="405.2" class="grid"/>
<line x1="38.3" y1="448.2" x2="161.9" y2="448.2" class="grid"/>
<line x1="38.3" y1="469.7" x2="161.9" y2="469.7" class="grid"/>
<line x1="39.3" y1="426.7" x2="160.9" y2="426.7" class="dot"/>
<line x1="38.3" y1="370.5" x2="38.3" y2="482" class="bl"/>
<line x1="161.9" y1="370.5" x2="161.9" y2="482" class="br"/>
<line x1="38.3" y1="370.5" x2="161.9" y2="370.5" class="bt"/>
<line x1="38.3" y1="482" x2="161.9" y2="482" class="bb"/>
<line x1="40.2" y1="369.3" x2="40.2" y2="370.5" class="tk"/>
<line x1="44.5" y1="367.7" x2="44.5" y2="370.5" class="tk"/>
<line x1="48.8" y1="369.3" x2="48.8" y2="370.5" class="tk"/>
<line x1="53.1" y1="368.5" x2="53.1" y2="370.5" class="tk"/>
<line x1="57.4" y1="369.3" x2="57.4" y2="370.5" class="tk"/>
<line x1="61.7" y1="367.7" x2="61.7" y2="370.5" class="tk"/>
<line x1="66" y1="369.3" x2="66" y2="370.5" class="tk"/>
<line x1="70.3" y1="368.5" x2="70.3" y2="370.5" class="tk"/>
<line x1="74.6" y1="369.3" x2="74.6" y2="370.5" class="tk"/>
<line x1="78.9" y1="367.7" x2="78.9" y2="370.5" class="tk"/>
<line x1="83.2" y1="369.3" x2="83.2" y2="370.5" class="tk"/>
<line x1="87.5" y1="368.5" x2="87.5" y2="370.5" class="tk"/>
<line x1="91.8" y1="369.3" x2="91.8" y2="370.5" class="tk"/>
<line x1="96.1" y1="367.7" x2="96.1" y2="370.5" class="tk"/>
<line x1="100.4" y1="369.3" x2="100.4" y2="370.5" class="tk"/>
<line x1="104.7" y1="368.5" x2="104.7" y2="370.5" class="tk"/>
<line x1="109" y1="369.3" x2="109" y2="370.5" class="tk"/>
<line x1="113.3" y1="367.7" x2="113.3" y2="370.5" class="tk"/>
<line x1="117.6" y1="369.3" x2="117.6" y2="370.5" class="tk"/>
<line x1="121.9" y1="368.5" x2="121.9" y2="370.5" class="tk"/>
<line x1="126.2" y1="369.3" x2="126.2" y2="370.5" class="tk"/>
<line x1="130.5" y1="367.7" x2="130.5" y2="370.5" class="tk"/>
<line x1="134.8" y1="369.3" x2="134.8" y2="370.5" class="tk"/>
<line x1="139.1" y1="368.5" x2="139.1" y2="370.5" class="tk"/>
<line x1="143.4" y1="369.3" x2="143.4" y2="370.5" class="tk"/>
<line x1="147.7" y1="367.7" x2="147.7" y2="370.5" class="tk"/>
<line x1="152" y1="369.3" x2="152" y2="370.5" class="tk"/>
<line x1="156.3" y1="368.5" x2="156.3" y2="370.5" class="tk"/>
<line x1="160.6" y1="369.3" x2="160.6" y2="370.5" class="tk"/>
<line x1="37" y1="372.95" x2="38.3" y2="372.95" class="tk"/>
<line x1="37" y1="378.32" x2="38.3" y2="378.32" class="tk"/>
<line x1="35.9" y1="383.7" x2="38.3" y2="383.7" class="tk"/>
<line x1="37" y1="389.07" x2="38.3" y2="389.07" class="tk"/>
<line x1="37" y1="394.45" x2="38.3" y2="394.45" class="tk"/>
<line x1="37" y1="399.82" x2="38.3" y2="399.82" class="tk"/>
<line x1="35.9" y1="405.2" x2="38.3" y2="405.2" class="tk"/>
<line x1="37" y1="410.57" x2="38.3" y2="410.57" class="tk"/>
<line x1="37" y1="415.95" x2="38.3" y2="415.95" class="tk"/>
<line x1="37" y1="421.32" x2="38.3" y2="421.32" class="tk"/>
<line x1="35.9" y1="426.7" x2="38.3" y2="426.7" class="tk"/>
<line x1="37" y1="432.07" x2="38.3" y2="432.07" class="tk"/>
<line x1="37" y1="437.45" x2="38.3" y2="437.45" class="tk"/>
<line x1="37" y1="442.82" x2="38.3" y2="442.82" class="tk"/>
<line x1="35.9" y1="448.2" x2="38.3" y2="448.2" class="tk"/>
<line x1="37" y1="453.57" x2="38.3" y2="453.57" class="tk"/>
<line x1="37" y1="458.95" x2="38.3" y2="458.95" class="tk"/>
<line x1="37" y1="464.32" x2="38.3" y2="464.32" class="tk"/>
<line x1="35.9" y1="469.7" x2="38.3" y2="469.7" class="tk"/>
<line x1="37" y1="475.07" x2="38.3" y2="475.07" class="tk"/>
<line x1="37" y1="480.45" x2="38.3" y2="480.45" class="tk"/>
<text x="41.8" y="363.5" class="ax" text-anchor="middle">–2000</text>
<text x="62.1" y="363.5" class="ax" text-anchor="middle">0</text>
<text x="81.2" y="363.5" class="ax" text-anchor="middle">2000</text>
<text x="113.5" y="363.5" class="ax" text-anchor="middle">4000</text>
<text x="147.8" y="363.5" class="ax" text-anchor="middle">10,000</text>
<text x="33.3" y="385.8" class="yl" text-anchor="end">1.4</text>
<text x="33.3" y="407.3" class="yl" text-anchor="end">1.2</text>
<text x="30.2" y="428.8" class="yl" text-anchor="end">1</text>
<text x="31.5" y="450.3" class="yl" text-anchor="end">0.8</text>
<text x="32.3" y="471.8" class="yl" text-anchor="end">0.6</text>
<text transform="translate(17.1,426) rotate(-90)" class="nav" text-anchor="middle">NAvO</text>
<text x="41.8" y="379.3" class="tow" textLength="43.3" lengthAdjust="spacingAndGlyphs">Tow Direction:</text>
<path d="M87,377.7 h2.6" stroke="#222" stroke-width="0.9"/>
<path d="M89.2,376.7 l2.3,1.0 l-2.3,1.0 z" fill="#222"/>
<text x="159.1" y="383.7" class="tx" text-anchor="end">Tx005</text>
<text x="41.6" y="476.9" class="sn">S</text>
<text x="158.4" y="476.7" class="sn" text-anchor="end">N</text>
<circle cx="48.8" cy="426.7" r="2.6" class="pl"/>
<circle cx="57.35" cy="426.7" r="2.6" class="pl"/>
<circle cx="65.9" cy="426.7" r="2.6" class="pl"/>
<circle cx="74.45" cy="427.1" r="2.6" class="pd"/>
<circle cx="83" cy="427.5" r="2.6" class="pd"/>
<circle cx="91.55" cy="427.8" r="2.6" class="pd"/>
<circle cx="100.1" cy="431.9" r="2.6" class="pd"/>
<circle cx="108.65" cy="435.2" r="2.6" class="pd"/>
<circle cx="117.2" cy="435.7" r="2.6" class="pd"/>
<circle cx="125.75" cy="431" r="2.6" class="pd"/>
<circle cx="134.3" cy="427.3" r="2.6" class="pd"/>
<circle cx="142.85" cy="426.7" r="2.6" class="pd"/>
<circle cx="151.4" cy="426.4" r="2.6" class="pd"/>
<rect x="45.2" y="481.8" width="109.1" height="12.3" fill="#9ad6ec"/>
<rect x="45.2" y="481.8" width="109.1" height="0.9" fill="#5f8598"/>
<path d="M45.2,485 L154.3,485.2 L154.3,486.1 L45.2,486 Z" fill="#78a6bb"/>
<path d="M45.2,487.7 L65.2,487.9 L90.2,487.6 L115.2,488.1 L133.2,489 L145.2,488.8 L154.3,489.2 L154.3,491.7 L45.2,491.7 Z" fill="#9a5512"/>
<rect x="45.2" y="493.3" width="109.1" height="0.8" fill="#6f8c9a"/>
<line x1="45.5" y1="481.8" x2="45.5" y2="494.1" stroke="#6a8090" stroke-width="0.7"/>
<path d="M66.4,485.4 L69,491 L63.8,491 Z" class="tri"/>
<path d="M73.9,485.51 L76.5,491.11 L71.3,491.11 Z" class="tri"/>
<path d="M81.4,485.62 L84,491.22 L78.8,491.22 Z" class="tri"/>
<path d="M88.9,485.73 L91.5,491.33 L86.3,491.33 Z" class="tri"/>
<path d="M96.4,485.84 L99,491.44 L93.8,491.44 Z" class="tri"/>
<path d="M103.9,485.96 L106.5,491.56 L101.3,491.56 Z" class="tri"/>
<path d="M111.4,486.07 L114,491.67 L108.8,491.67 Z" class="tri"/>
<path d="M118.9,486.18 L121.5,491.78 L116.3,491.78 Z" class="tri"/>
<path d="M126.4,486.29 L129,491.89 L123.8,491.89 Z" class="tri"/>
<path d="M133.9,486.4 L136.5,492 L131.3,492 Z" class="tri"/>
<line x1="47.65" y1="494.2" x2="47.65" y2="495.6" class="tk2"/>
<line x1="51.4" y1="494.2" x2="51.4" y2="496.8" class="tk2"/>
<line x1="55.15" y1="494.2" x2="55.15" y2="495.6" class="tk2"/>
<line x1="58.9" y1="494.2" x2="58.9" y2="496.8" class="tk2"/>
<line x1="62.65" y1="494.2" x2="62.65" y2="495.6" class="tk2"/>
<line x1="66.4" y1="494.2" x2="66.4" y2="496.8" class="tk2"/>
<line x1="70.15" y1="494.2" x2="70.15" y2="495.6" class="tk2"/>
<line x1="73.9" y1="494.2" x2="73.9" y2="496.8" class="tk2"/>
<line x1="77.65" y1="494.2" x2="77.65" y2="495.6" class="tk2"/>
<line x1="81.4" y1="494.2" x2="81.4" y2="496.8" class="tk2"/>
<line x1="85.15" y1="494.2" x2="85.15" y2="495.6" class="tk2"/>
<line x1="88.9" y1="494.2" x2="88.9" y2="496.8" class="tk2"/>
<line x1="92.65" y1="494.2" x2="92.65" y2="495.6" class="tk2"/>
<line x1="96.4" y1="494.2" x2="96.4" y2="496.8" class="tk2"/>
<line x1="100.15" y1="494.2" x2="100.15" y2="495.6" class="tk2"/>
<line x1="103.9" y1="494.2" x2="103.9" y2="496.8" class="tk2"/>
<line x1="107.65" y1="494.2" x2="107.65" y2="495.6" class="tk2"/>
<line x1="111.4" y1="494.2" x2="111.4" y2="496.8" class="tk2"/>
<line x1="115.15" y1="494.2" x2="115.15" y2="495.6" class="tk2"/>
<line x1="118.9" y1="494.2" x2="118.9" y2="496.8" class="tk2"/>
<line x1="122.65" y1="494.2" x2="122.65" y2="495.6" class="tk2"/>
<line x1="126.4" y1="494.2" x2="126.4" y2="496.8" class="tk2"/>
<line x1="130.15" y1="494.2" x2="130.15" y2="495.6" class="tk2"/>
<line x1="133.9" y1="494.2" x2="133.9" y2="496.8" class="tk2"/>
<line x1="137.65" y1="494.2" x2="137.65" y2="495.6" class="tk2"/>
<line x1="141.4" y1="494.2" x2="141.4" y2="496.8" class="tk2"/>
<line x1="145.15" y1="494.2" x2="145.15" y2="495.6" class="tk2"/>
<line x1="148.9" y1="494.2" x2="148.9" y2="496.8" class="tk2"/>
<line x1="152.65" y1="494.2" x2="152.65" y2="495.6" class="tk2"/>
<text x="46.2" y="504.9" class="ax" text-anchor="middle">–2000</text>
<text x="66.6" y="504.9" class="ax" text-anchor="middle">0</text>
<text x="85.3" y="504.9" class="ax" text-anchor="middle">2000</text>
<text x="117.5" y="504.9" class="ax" text-anchor="middle">4000</text>
<text x="151.9" y="504.9" class="ax" text-anchor="middle">10,000</text>
<text x="48.8" y="514.2" class="xt">Distance from first receiver [m]</text>
<text transform="translate(30.7,492.6) rotate(-90)" class="dep" text-anchor="middle">Depth [m]</text>
<text x="199.3" y="357.1" class="let">h</text>
<line x1="234.6" y1="370.5" x2="234.6" y2="482" class="grid"/>
<line x1="251.8" y1="370.5" x2="251.8" y2="482" class="grid"/>
<line x1="269" y1="370.5" x2="269" y2="482" class="grid"/>
<line x1="286.2" y1="370.5" x2="286.2" y2="482" class="grid"/>
<line x1="303.4" y1="370.5" x2="303.4" y2="482" class="grid"/>
<line x1="320.6" y1="370.5" x2="320.6" y2="482" class="grid"/>
<line x1="337.8" y1="370.5" x2="337.8" y2="482" class="grid"/>
<line x1="228.4" y1="383.7" x2="352" y2="383.7" class="grid"/>
<line x1="228.4" y1="405.2" x2="352" y2="405.2" class="grid"/>
<line x1="228.4" y1="448.2" x2="352" y2="448.2" class="grid"/>
<line x1="228.4" y1="469.7" x2="352" y2="469.7" class="grid"/>
<line x1="229.4" y1="426.7" x2="351" y2="426.7" class="dot"/>
<line x1="228.4" y1="370.5" x2="228.4" y2="482" class="bl"/>
<line x1="352" y1="370.5" x2="352" y2="482" class="br"/>
<line x1="228.4" y1="370.5" x2="352" y2="370.5" class="bt"/>
<line x1="228.4" y1="482" x2="352" y2="482" class="bb"/>
<line x1="230.3" y1="369.3" x2="230.3" y2="370.5" class="tk"/>
<line x1="234.6" y1="367.7" x2="234.6" y2="370.5" class="tk"/>
<line x1="238.9" y1="369.3" x2="238.9" y2="370.5" class="tk"/>
<line x1="243.2" y1="368.5" x2="243.2" y2="370.5" class="tk"/>
<line x1="247.5" y1="369.3" x2="247.5" y2="370.5" class="tk"/>
<line x1="251.8" y1="367.7" x2="251.8" y2="370.5" class="tk"/>
<line x1="256.1" y1="369.3" x2="256.1" y2="370.5" class="tk"/>
<line x1="260.4" y1="368.5" x2="260.4" y2="370.5" class="tk"/>
<line x1="264.7" y1="369.3" x2="264.7" y2="370.5" class="tk"/>
<line x1="269" y1="367.7" x2="269" y2="370.5" class="tk"/>
<line x1="273.3" y1="369.3" x2="273.3" y2="370.5" class="tk"/>
<line x1="277.6" y1="368.5" x2="277.6" y2="370.5" class="tk"/>
<line x1="281.9" y1="369.3" x2="281.9" y2="370.5" class="tk"/>
<line x1="286.2" y1="367.7" x2="286.2" y2="370.5" class="tk"/>
<line x1="290.5" y1="369.3" x2="290.5" y2="370.5" class="tk"/>
<line x1="294.8" y1="368.5" x2="294.8" y2="370.5" class="tk"/>
<line x1="299.1" y1="369.3" x2="299.1" y2="370.5" class="tk"/>
<line x1="303.4" y1="367.7" x2="303.4" y2="370.5" class="tk"/>
<line x1="307.7" y1="369.3" x2="307.7" y2="370.5" class="tk"/>
<line x1="312" y1="368.5" x2="312" y2="370.5" class="tk"/>
<line x1="316.3" y1="369.3" x2="316.3" y2="370.5" class="tk"/>
<line x1="320.6" y1="367.7" x2="320.6" y2="370.5" class="tk"/>
<line x1="324.9" y1="369.3" x2="324.9" y2="370.5" class="tk"/>
<line x1="329.2" y1="368.5" x2="329.2" y2="370.5" class="tk"/>
<line x1="333.5" y1="369.3" x2="333.5" y2="370.5" class="tk"/>
<line x1="337.8" y1="367.7" x2="337.8" y2="370.5" class="tk"/>
<line x1="342.1" y1="369.3" x2="342.1" y2="370.5" class="tk"/>
<line x1="346.4" y1="368.5" x2="346.4" y2="370.5" class="tk"/>
<line x1="350.7" y1="369.3" x2="350.7" y2="370.5" class="tk"/>
<line x1="227.1" y1="372.95" x2="228.4" y2="372.95" class="tk"/>
<line x1="227.1" y1="378.32" x2="228.4" y2="378.32" class="tk"/>
<line x1="226" y1="383.7" x2="228.4" y2="383.7" class="tk"/>
<line x1="227.1" y1="389.07" x2="228.4" y2="389.07" class="tk"/>
<line x1="227.1" y1="394.45" x2="228.4" y2="394.45" class="tk"/>
<line x1="227.1" y1="399.82" x2="228.4" y2="399.82" class="tk"/>
<line x1="226" y1="405.2" x2="228.4" y2="405.2" class="tk"/>
<line x1="227.1" y1="410.57" x2="228.4" y2="410.57" class="tk"/>
<line x1="227.1" y1="415.95" x2="228.4" y2="415.95" class="tk"/>
<line x1="227.1" y1="421.32" x2="228.4" y2="421.32" class="tk"/>
<line x1="226" y1="426.7" x2="228.4" y2="426.7" class="tk"/>
<line x1="227.1" y1="432.07" x2="228.4" y2="432.07" class="tk"/>
<line x1="227.1" y1="437.45" x2="228.4" y2="437.45" class="tk"/>
<line x1="227.1" y1="442.82" x2="228.4" y2="442.82" class="tk"/>
<line x1="226" y1="448.2" x2="228.4" y2="448.2" class="tk"/>
<line x1="227.1" y1="453.57" x2="228.4" y2="453.57" class="tk"/>
<line x1="227.1" y1="458.95" x2="228.4" y2="458.95" class="tk"/>
<line x1="227.1" y1="464.32" x2="228.4" y2="464.32" class="tk"/>
<line x1="226" y1="469.7" x2="228.4" y2="469.7" class="tk"/>
<line x1="227.1" y1="475.07" x2="228.4" y2="475.07" class="tk"/>
<line x1="227.1" y1="480.45" x2="228.4" y2="480.45" class="tk"/>
<text x="231.9" y="364.4" class="ax" text-anchor="middle">–2000</text>
<text x="252.2" y="364.4" class="ax" text-anchor="middle">0</text>
<text x="271.3" y="364.4" class="ax" text-anchor="middle">2000</text>
<text x="303.6" y="364.4" class="ax" text-anchor="middle">4000</text>
<text x="337.9" y="364.4" class="ax" text-anchor="middle">10,000</text>
<text x="223.4" y="385.8" class="yl" text-anchor="end">1.4</text>
<text x="223.4" y="407.3" class="yl" text-anchor="end">1.2</text>
<text x="220.3" y="428.8" class="yl" text-anchor="end">1</text>
<text x="221.6" y="450.3" class="yl" text-anchor="end">0.8</text>
<text x="222.4" y="471.8" class="yl" text-anchor="end">0.6</text>
<text transform="translate(207.2,426) rotate(-90)" class="nav" text-anchor="middle">NAvO</text>
<text x="231.9" y="379.3" class="tow" textLength="43.3" lengthAdjust="spacingAndGlyphs">Tow Direction:</text>
<path d="M277.1,377.7 h2.6" stroke="#222" stroke-width="0.9"/>
<path d="M279.3,376.7 l2.3,1.0 l-2.3,1.0 z" fill="#222"/>
<text x="349.2" y="383.7" class="tx" text-anchor="end">Tx005</text>
<text x="231.7" y="476.9" class="sn">S</text>
<text x="348.5" y="476.7" class="sn" text-anchor="end">N</text>
<circle cx="238.9" cy="426.7" r="2.6" class="pl"/>
<circle cx="247.45" cy="426.5" r="2.6" class="pl"/>
<circle cx="256" cy="426.5" r="2.6" class="pl"/>
<circle cx="264.55" cy="426.9" r="2.6" class="pd"/>
<circle cx="273.1" cy="428.4" r="2.6" class="pd"/>
<circle cx="281.65" cy="429" r="2.6" class="pd"/>
<circle cx="290.2" cy="434.8" r="2.6" class="pd"/>
<circle cx="298.75" cy="441.2" r="2.6" class="pd"/>
<circle cx="307.3" cy="441.9" r="2.6" class="pd"/>
<circle cx="315.85" cy="432.4" r="2.6" class="pd"/>
<circle cx="324.4" cy="427.3" r="2.6" class="pd"/>
<circle cx="332.95" cy="426.7" r="2.6" class="pd"/>
<circle cx="341.5" cy="426.4" r="2.6" class="pd"/>
<rect x="235.3" y="481.8" width="109.1" height="12.3" fill="#9ad6ec"/>
<rect x="235.3" y="481.8" width="109.1" height="0.9" fill="#5f8598"/>
<path d="M235.3,485 L344.4,485.2 L344.4,486.1 L235.3,486 Z" fill="#78a6bb"/>
<path d="M235.3,487.7 L255.3,487.9 L280.3,487.6 L305.3,488.1 L323.3,489 L335.3,488.8 L344.4,489.2 L344.4,491.7 L235.3,491.7 Z" fill="#9a5512"/>
<rect x="235.3" y="493.3" width="109.1" height="0.8" fill="#6f8c9a"/>
<line x1="235.6" y1="481.8" x2="235.6" y2="494.1" stroke="#6a8090" stroke-width="0.7"/>
<path d="M256.5,485.4 L259.1,491 L253.9,491 Z" class="tri"/>
<path d="M264,485.51 L266.6,491.11 L261.4,491.11 Z" class="tri"/>
<path d="M271.5,485.62 L274.1,491.22 L268.9,491.22 Z" class="tri"/>
<path d="M279,485.73 L281.6,491.33 L276.4,491.33 Z" class="tri"/>
<path d="M286.5,485.84 L289.1,491.44 L283.9,491.44 Z" class="tri"/>
<path d="M294,485.96 L296.6,491.56 L291.4,491.56 Z" class="tri"/>
<path d="M301.5,486.07 L304.1,491.67 L298.9,491.67 Z" class="tri"/>
<path d="M309,486.18 L311.6,491.78 L306.4,491.78 Z" class="tri"/>
<path d="M316.5,486.29 L319.1,491.89 L313.9,491.89 Z" class="tri"/>
<path d="M324,486.4 L326.6,492 L321.4,492 Z" class="tri"/>
<line x1="237.75" y1="494.2" x2="237.75" y2="495.6" class="tk2"/>
<line x1="241.5" y1="494.2" x2="241.5" y2="496.8" class="tk2"/>
<line x1="245.25" y1="494.2" x2="245.25" y2="495.6" class="tk2"/>
<line x1="249" y1="494.2" x2="249" y2="496.8" class="tk2"/>
<line x1="252.75" y1="494.2" x2="252.75" y2="495.6" class="tk2"/>
<line x1="256.5" y1="494.2" x2="256.5" y2="496.8" class="tk2"/>
<line x1="260.25" y1="494.2" x2="260.25" y2="495.6" class="tk2"/>
<line x1="264" y1="494.2" x2="264" y2="496.8" class="tk2"/>
<line x1="267.75" y1="494.2" x2="267.75" y2="495.6" class="tk2"/>
<line x1="271.5" y1="494.2" x2="271.5" y2="496.8" class="tk2"/>
<line x1="275.25" y1="494.2" x2="275.25" y2="495.6" class="tk2"/>
<line x1="279" y1="494.2" x2="279" y2="496.8" class="tk2"/>
<line x1="282.75" y1="494.2" x2="282.75" y2="495.6" class="tk2"/>
<line x1="286.5" y1="494.2" x2="286.5" y2="496.8" class="tk2"/>
<line x1="290.25" y1="494.2" x2="290.25" y2="495.6" class="tk2"/>
<line x1="294" y1="494.2" x2="294" y2="496.8" class="tk2"/>
<line x1="297.75" y1="494.2" x2="297.75" y2="495.6" class="tk2"/>
<line x1="301.5" y1="494.2" x2="301.5" y2="496.8" class="tk2"/>
<line x1="305.25" y1="494.2" x2="305.25" y2="495.6" class="tk2"/>
<line x1="309" y1="494.2" x2="309" y2="496.8" class="tk2"/>
<line x1="312.75" y1="494.2" x2="312.75" y2="495.6" class="tk2"/>
<line x1="316.5" y1="494.2" x2="316.5" y2="496.8" class="tk2"/>
<line x1="320.25" y1="494.2" x2="320.25" y2="495.6" class="tk2"/>
<line x1="324" y1="494.2" x2="324" y2="496.8" class="tk2"/>
<line x1="327.75" y1="494.2" x2="327.75" y2="495.6" class="tk2"/>
<line x1="331.5" y1="494.2" x2="331.5" y2="496.8" class="tk2"/>
<line x1="335.25" y1="494.2" x2="335.25" y2="495.6" class="tk2"/>
<line x1="339" y1="494.2" x2="339" y2="496.8" class="tk2"/>
<line x1="342.75" y1="494.2" x2="342.75" y2="495.6" class="tk2"/>
<text x="236.3" y="504.9" class="ax" text-anchor="middle">–2000</text>
<text x="256.7" y="504.9" class="ax" text-anchor="middle">0</text>
<text x="275.4" y="504.9" class="ax" text-anchor="middle">2000</text>
<text x="307.6" y="504.9" class="ax" text-anchor="middle">4000</text>
<text x="342" y="504.9" class="ax" text-anchor="middle">10,000</text>
<text x="238.9" y="514.2" class="xt">Distance from first receiver [m]</text>
<text transform="translate(220.8,492.6) rotate(-90)" class="dep" text-anchor="middle">Depth [m]</text>
<text x="388.2" y="356.5" class="let">i</text>
<line x1="424.8" y1="370.5" x2="424.8" y2="482" class="grid"/>
<line x1="442" y1="370.5" x2="442" y2="482" class="grid"/>
<line x1="459.2" y1="370.5" x2="459.2" y2="482" class="grid"/>
<line x1="476.4" y1="370.5" x2="476.4" y2="482" class="grid"/>
<line x1="493.6" y1="370.5" x2="493.6" y2="482" class="grid"/>
<line x1="510.8" y1="370.5" x2="510.8" y2="482" class="grid"/>
<line x1="528" y1="370.5" x2="528" y2="482" class="grid"/>
<line x1="418.6" y1="383.7" x2="542.7" y2="383.7" class="grid"/>
<line x1="418.6" y1="405.2" x2="542.7" y2="405.2" class="grid"/>
<line x1="418.6" y1="448.2" x2="542.7" y2="448.2" class="grid"/>
<line x1="418.6" y1="469.7" x2="542.7" y2="469.7" class="grid"/>
<line x1="419.6" y1="426.7" x2="541.7" y2="426.7" class="dot"/>
<line x1="418.6" y1="370.5" x2="418.6" y2="482" class="bl"/>
<line x1="542.7" y1="370.5" x2="542.7" y2="482" class="br"/>
<line x1="418.6" y1="370.5" x2="542.7" y2="370.5" class="bt"/>
<line x1="418.6" y1="482" x2="542.7" y2="482" class="bb"/>
<line x1="420.5" y1="369.3" x2="420.5" y2="370.5" class="tk"/>
<line x1="424.8" y1="367.7" x2="424.8" y2="370.5" class="tk"/>
<line x1="429.1" y1="369.3" x2="429.1" y2="370.5" class="tk"/>
<line x1="433.4" y1="368.5" x2="433.4" y2="370.5" class="tk"/>
<line x1="437.7" y1="369.3" x2="437.7" y2="370.5" class="tk"/>
<line x1="442" y1="367.7" x2="442" y2="370.5" class="tk"/>
<line x1="446.3" y1="369.3" x2="446.3" y2="370.5" class="tk"/>
<line x1="450.6" y1="368.5" x2="450.6" y2="370.5" class="tk"/>
<line x1="454.9" y1="369.3" x2="454.9" y2="370.5" class="tk"/>
<line x1="459.2" y1="367.7" x2="459.2" y2="370.5" class="tk"/>
<line x1="463.5" y1="369.3" x2="463.5" y2="370.5" class="tk"/>
<line x1="467.8" y1="368.5" x2="467.8" y2="370.5" class="tk"/>
<line x1="472.1" y1="369.3" x2="472.1" y2="370.5" class="tk"/>
<line x1="476.4" y1="367.7" x2="476.4" y2="370.5" class="tk"/>
<line x1="480.7" y1="369.3" x2="480.7" y2="370.5" class="tk"/>
<line x1="485" y1="368.5" x2="485" y2="370.5" class="tk"/>
<line x1="489.3" y1="369.3" x2="489.3" y2="370.5" class="tk"/>
<line x1="493.6" y1="367.7" x2="493.6" y2="370.5" class="tk"/>
<line x1="497.9" y1="369.3" x2="497.9" y2="370.5" class="tk"/>
<line x1="502.2" y1="368.5" x2="502.2" y2="370.5" class="tk"/>
<line x1="506.5" y1="369.3" x2="506.5" y2="370.5" class="tk"/>
<line x1="510.8" y1="367.7" x2="510.8" y2="370.5" class="tk"/>
<line x1="515.1" y1="369.3" x2="515.1" y2="370.5" class="tk"/>
<line x1="519.4" y1="368.5" x2="519.4" y2="370.5" class="tk"/>
<line x1="523.7" y1="369.3" x2="523.7" y2="370.5" class="tk"/>
<line x1="528" y1="367.7" x2="528" y2="370.5" class="tk"/>
<line x1="532.3" y1="369.3" x2="532.3" y2="370.5" class="tk"/>
<line x1="536.6" y1="368.5" x2="536.6" y2="370.5" class="tk"/>
<line x1="540.9" y1="369.3" x2="540.9" y2="370.5" class="tk"/>
<line x1="417.3" y1="372.95" x2="418.6" y2="372.95" class="tk"/>
<line x1="417.3" y1="378.32" x2="418.6" y2="378.32" class="tk"/>
<line x1="416.2" y1="383.7" x2="418.6" y2="383.7" class="tk"/>
<line x1="417.3" y1="389.07" x2="418.6" y2="389.07" class="tk"/>
<line x1="417.3" y1="394.45" x2="418.6" y2="394.45" class="tk"/>
<line x1="417.3" y1="399.82" x2="418.6" y2="399.82" class="tk"/>
<line x1="416.2" y1="405.2" x2="418.6" y2="405.2" class="tk"/>
<line x1="417.3" y1="410.57" x2="418.6" y2="410.57" class="tk"/>
<line x1="417.3" y1="415.95" x2="418.6" y2="415.95" class="tk"/>
<line x1="417.3" y1="421.32" x2="418.6" y2="421.32" class="tk"/>
<line x1="416.2" y1="426.7" x2="418.6" y2="426.7" class="tk"/>
<line x1="417.3" y1="432.07" x2="418.6" y2="432.07" class="tk"/>
<line x1="417.3" y1="437.45" x2="418.6" y2="437.45" class="tk"/>
<line x1="417.3" y1="442.82" x2="418.6" y2="442.82" class="tk"/>
<line x1="416.2" y1="448.2" x2="418.6" y2="448.2" class="tk"/>
<line x1="417.3" y1="453.57" x2="418.6" y2="453.57" class="tk"/>
<line x1="417.3" y1="458.95" x2="418.6" y2="458.95" class="tk"/>
<line x1="417.3" y1="464.32" x2="418.6" y2="464.32" class="tk"/>
<line x1="416.2" y1="469.7" x2="418.6" y2="469.7" class="tk"/>
<line x1="417.3" y1="475.07" x2="418.6" y2="475.07" class="tk"/>
<line x1="417.3" y1="480.45" x2="418.6" y2="480.45" class="tk"/>
<text x="422.1" y="363.7" class="ax" text-anchor="middle">–2000</text>
<text x="442.4" y="363.7" class="ax" text-anchor="middle">0</text>
<text x="461.5" y="363.7" class="ax" text-anchor="middle">2000</text>
<text x="493.8" y="363.7" class="ax" text-anchor="middle">4000</text>
<text x="528.1" y="363.7" class="ax" text-anchor="middle">10,000</text>
<text x="413.6" y="385.8" class="yl" text-anchor="end">1.4</text>
<text x="413.6" y="407.3" class="yl" text-anchor="end">1.2</text>
<text x="410.5" y="428.8" class="yl" text-anchor="end">1</text>
<text x="411.8" y="450.3" class="yl" text-anchor="end">0.8</text>
<text x="412.6" y="471.8" class="yl" text-anchor="end">0.6</text>
<text transform="translate(397.4,426) rotate(-90)" class="nav" text-anchor="middle">NAvO</text>
<text x="422.1" y="379.3" class="tow" textLength="43.3" lengthAdjust="spacingAndGlyphs">Tow Direction:</text>
<path d="M467.3,377.7 h2.6" stroke="#222" stroke-width="0.9"/>
<path d="M469.5,376.7 l2.3,1.0 l-2.3,1.0 z" fill="#222"/>
<text x="539.4" y="383.7" class="tx" text-anchor="end">Tx005</text>
<text x="421.9" y="476.9" class="sn">S</text>
<text x="538.7" y="476.7" class="sn" text-anchor="end">N</text>
<circle cx="429.1" cy="426.7" r="2.6" class="pl"/>
<circle cx="437.7" cy="426.9" r="2.6" class="pl"/>
<circle cx="446.3" cy="426.5" r="2.6" class="pl"/>
<circle cx="454.9" cy="426.9" r="2.6" class="pd"/>
<circle cx="463.5" cy="429" r="2.6" class="pd"/>
<circle cx="472.1" cy="429.9" r="2.6" class="pd"/>
<circle cx="480.7" cy="436.3" r="2.6" class="pd"/>
<circle cx="489.3" cy="442.3" r="2.6" class="pd"/>
<circle cx="497.9" cy="443.6" r="2.6" class="pd"/>
<circle cx="506.5" cy="432.4" r="2.6" class="pd"/>
<circle cx="515.1" cy="427.5" r="2.6" class="pd"/>
<circle cx="523.7" cy="426.9" r="2.6" class="pd"/>
<circle cx="532.3" cy="426.5" r="2.6" class="pd"/>
<rect x="425.5" y="481.8" width="109.1" height="12.3" fill="#9ad6ec"/>
<rect x="425.5" y="481.8" width="109.1" height="0.9" fill="#5f8598"/>
<path d="M425.5,485 L534.6,485.2 L534.6,486.1 L425.5,486 Z" fill="#78a6bb"/>
<path d="M425.5,487.7 L445.5,487.9 L470.5,487.6 L495.5,488.1 L513.5,489 L525.5,488.8 L534.6,489.2 L534.6,491.7 L425.5,491.7 Z" fill="#9a5512"/>
<rect x="425.5" y="493.3" width="109.1" height="0.8" fill="#6f8c9a"/>
<line x1="425.8" y1="481.8" x2="425.8" y2="494.1" stroke="#6a8090" stroke-width="0.7"/>
<path d="M446.7,485.4 L449.3,491 L444.1,491 Z" class="tri"/>
<path d="M454.2,485.51 L456.8,491.11 L451.6,491.11 Z" class="tri"/>
<path d="M461.7,485.62 L464.3,491.22 L459.1,491.22 Z" class="tri"/>
<path d="M469.2,485.73 L471.8,491.33 L466.6,491.33 Z" class="tri"/>
<path d="M476.7,485.84 L479.3,491.44 L474.1,491.44 Z" class="tri"/>
<path d="M484.2,485.96 L486.8,491.56 L481.6,491.56 Z" class="tri"/>
<path d="M491.7,486.07 L494.3,491.67 L489.1,491.67 Z" class="tri"/>
<path d="M499.2,486.18 L501.8,491.78 L496.6,491.78 Z" class="tri"/>
<path d="M506.7,486.29 L509.3,491.89 L504.1,491.89 Z" class="tri"/>
<path d="M514.2,486.4 L516.8,492 L511.6,492 Z" class="tri"/>
<line x1="427.95" y1="494.2" x2="427.95" y2="495.6" class="tk2"/>
<line x1="431.7" y1="494.2" x2="431.7" y2="496.8" class="tk2"/>
<line x1="435.45" y1="494.2" x2="435.45" y2="495.6" class="tk2"/>
<line x1="439.2" y1="494.2" x2="439.2" y2="496.8" class="tk2"/>
<line x1="442.95" y1="494.2" x2="442.95" y2="495.6" class="tk2"/>
<line x1="446.7" y1="494.2" x2="446.7" y2="496.8" class="tk2"/>
<line x1="450.45" y1="494.2" x2="450.45" y2="495.6" class="tk2"/>
<line x1="454.2" y1="494.2" x2="454.2" y2="496.8" class="tk2"/>
<line x1="457.95" y1="494.2" x2="457.95" y2="495.6" class="tk2"/>
<line x1="461.7" y1="494.2" x2="461.7" y2="496.8" class="tk2"/>
<line x1="465.45" y1="494.2" x2="465.45" y2="495.6" class="tk2"/>
<line x1="469.2" y1="494.2" x2="469.2" y2="496.8" class="tk2"/>
<line x1="472.95" y1="494.2" x2="472.95" y2="495.6" class="tk2"/>
<line x1="476.7" y1="494.2" x2="476.7" y2="496.8" class="tk2"/>
<line x1="480.45" y1="494.2" x2="480.45" y2="495.6" class="tk2"/>
<line x1="484.2" y1="494.2" x2="484.2" y2="496.8" class="tk2"/>
<line x1="487.95" y1="494.2" x2="487.95" y2="495.6" class="tk2"/>
<line x1="491.7" y1="494.2" x2="491.7" y2="496.8" class="tk2"/>
<line x1="495.45" y1="494.2" x2="495.45" y2="495.6" class="tk2"/>
<line x1="499.2" y1="494.2" x2="499.2" y2="496.8" class="tk2"/>
<line x1="502.95" y1="494.2" x2="502.95" y2="495.6" class="tk2"/>
<line x1="506.7" y1="494.2" x2="506.7" y2="496.8" class="tk2"/>
<line x1="510.45" y1="494.2" x2="510.45" y2="495.6" class="tk2"/>
<line x1="514.2" y1="494.2" x2="514.2" y2="496.8" class="tk2"/>
<line x1="517.95" y1="494.2" x2="517.95" y2="495.6" class="tk2"/>
<line x1="521.7" y1="494.2" x2="521.7" y2="496.8" class="tk2"/>
<line x1="525.45" y1="494.2" x2="525.45" y2="495.6" class="tk2"/>
<line x1="529.2" y1="494.2" x2="529.2" y2="496.8" class="tk2"/>
<line x1="532.95" y1="494.2" x2="532.95" y2="495.6" class="tk2"/>
<text x="426.5" y="504.9" class="ax" text-anchor="middle">–2000</text>
<text x="446.9" y="504.9" class="ax" text-anchor="middle">0</text>
<text x="465.6" y="504.9" class="ax" text-anchor="middle">2000</text>
<text x="497.8" y="504.9" class="ax" text-anchor="middle">4000</text>
<text x="532.2" y="504.9" class="ax" text-anchor="middle">10,000</text>
<text x="429.1" y="514.2" class="xt">Distance from first receiver [m]</text>
<text transform="translate(411,492.6) rotate(-90)" class="dep" text-anchor="middle">Depth [m]</text>
</svg>
</body></html>
